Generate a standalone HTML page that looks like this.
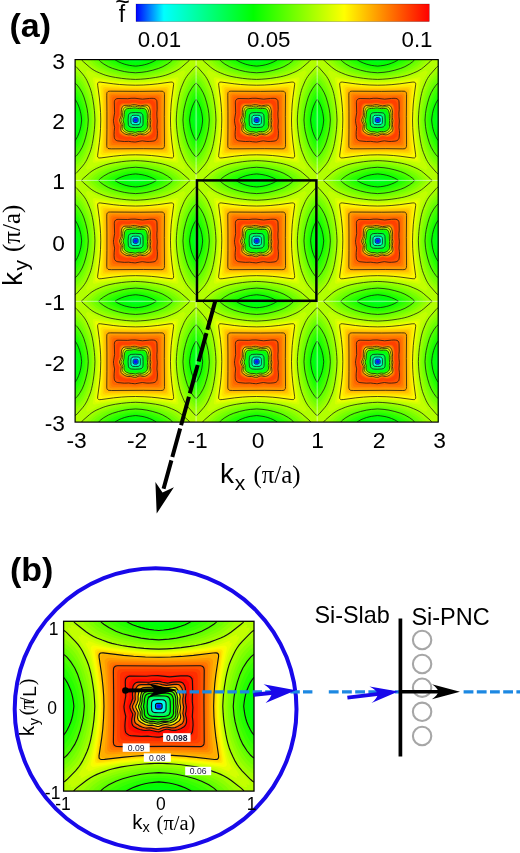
<!DOCTYPE html>
<html><head><meta charset="utf-8"><title>Figure</title>
<style>
html,body{margin:0;padding:0;background:#fff}
svg{display:block}
text{font-family:"Liberation Sans",Arial,sans-serif;fill:#000}
.s{font-family:"Liberation Serif","Times New Roman",serif}
.b{font-weight:bold}
</style></head><body>
<svg width="520" height="853" viewBox="0 0 520 853">
<defs>
<linearGradient id="cb" x1="0" x2="1" y1="0" y2="0"><stop offset="0" stop-color="rgb(0,0,255)"/><stop offset="0.095" stop-color="rgb(0,255,255)"/><stop offset="0.4" stop-color="rgb(0,255,0)"/><stop offset="0.71" stop-color="rgb(255,255,0)"/><stop offset="1" stop-color="rgb(255,0,0)"/></linearGradient>
<g id="cf">
<rect width="200" height="200" fill="rgb(0,28,255)"/>
<path fill="#0054ff" d="M0 200l200 0 0-200 -200 0 0 199.5zM98.5 102.5l-0.8-0.5 -0.3-1 0-2 0.3-1 0.7-0.5 0.6-0.1 2.5 0.1 0.5 0.2 0.5 0.8 0.2 2 -0.2 1.1 -0.5 0.7 -0.5 0.2 -2.5 0.1z"/>
<path fill="#008cff" d="M0 200l200 0 0-200 -200 0 0 199.5zM99 103.5l-1.5-0.3 -0.7-0.7 -0.3-1.5 0.1-3 0.6-1 0.8-0.4 3-0.1 1.5 0.3 0.7 0.7 0.3 1.5 -0.1 3 -0.4 0.8 -1 0.6 -2.5 0.1z"/>
<path fill="#00c4ff" d="M0 200l200 0 0-200 -200 0 0 199.5zM98 104l-1.2-0.5 -0.5-0.5 -0.3-0.9 -0.1-3.6 0.4-1.5 0.7-0.7 1-0.3 4 0 1.2 0.5 0.7 1 0.2 2.5 -0.2 2.5 -0.4 0.7 -1 0.7 -1.5 0.2 -2.5 0z"/>
<path fill="#00fcff" d="M0 200l200 0 0-200 -200 0 0 199.5zM98 104.6l-1.5-0.5 -0.8-1.1 -0.3-1 0-2 0-2 0.3-1 0.7-1 1.1-0.5 4.5-0.1 1.5 0.5 0.8 1.1 0.3 1 0 2 0 2 -0.3 1 -0.7 1 -1.1 0.5 -4 0.1z"/>
<path fill="#00ffef" d="M0 200l200 0 0-200 -200 0 0 199.5zM97.5 105.1l-1.5-0.6 -0.5-0.5 -0.5-1 -0.1-4 0.1-1.5 0.2-1 0.8-1 1-0.5 2-0.1 3.5 0 1.5 0.6 0.5 0.5 0.5 1 0.1 4.5 -0.3 2 -0.8 1 -1 0.5 -1.5 0.1 -3.5 0z"/>
<path fill="#00ffdd" d="M0 200l200 0 0-200 -200 0 0 199.5zM97.5 105.6l-1.8-0.6 -0.7-0.7 -0.4-0.8 -0.2-1.5 0-3.5 0.1-1.5 0.3-1 0.9-1 1.3-0.5 5.5-0.1 1.8 0.6 0.7 0.7 0.4 0.8 0.2 1 0 2.5 -0.2 3.5 -0.6 1 -1.3 0.9 -1.5 0.2 -4 0z"/>
<path fill="#00ffcc" d="M0 200l200 0 0-200 -200 0 0 199.5zM97.5 106l-2-0.5 -0.6-0.5 -0.6-1 -0.3-1.5 -0.1-2.5 0.1-2.5 0.3-1.5 0.7-1.1 0.5-0.4 1-0.4 2-0.2 4 0.1 2 0.5 0.6 0.5 0.6 1 0.3 1.5 0.1 2.5 -0.1 2.5 -0.3 1.5 -0.7 1.1 -1.5 0.8 -5.5 0.2z"/>
<path fill="#00ffba" d="M0 200l200 0 0-200 -200 0 0 199.5zM97.5 106.5l-1.5-0.2 -1-0.5 -0.8-0.8 -0.5-1 -0.3-4.5 0.1-2.5 0.4-1.5 0.7-1 1.4-0.8 2.5-0.2 4 0 1.5 0.2 0.8 0.3 0.7 0.6 0.6 0.9 0.3 1 0.1 2 0 4 -0.2 1.5 -0.8 1.4 -1.5 0.9 -1.5 0.2 -4.5 0z"/>
<path fill="#00ffa9" d="M0 200l200 0 0-200 -200 0 0 199.5zM97.5 107l-1.5-0.1 -1.1-0.4 -1.2-1 -0.4-1 -0.3-1.5 -0.1-3 0.1-3 0.3-1.5 0.9-1.5 1.3-0.7 2.5-0.3 4.5 0 1.5 0.1 1.1 0.4 1.2 1 0.4 1 0.3 1.5 0.1 3 -0.1 3 -0.2 1.5 -0.8 1.3 -1.5 0.9 -1.5 0.3 -5 0z"/>
<path fill="#00ff98" d="M0 200l200 0 0-200 -200 0 0 199.5zM96.5 107.5l-1.5-0.3 -1-0.5 -0.7-0.7 -0.6-1 -0.2-1.5 -0.1-4 0.1-3.5 0.5-1.5 1-1.3 1.5-0.6 3-0.2 5 0.1 1.5 0.2 1 0.5 1 1.2 0.4 1.1 0.2 2.5 0 5 -0.2 1.5 -0.3 1 -1.1 1.2 -1.5 0.7 -4 0.2 -3.5 0z"/>
<path fill="#00ff86" d="M0 200l200 0 0-200 -200 0 0 199.5zM95.5 108l-1.5-0.4 -0.8-0.6 -0.7-0.9 -0.4-1.1 -0.3-3.5 0-3.5 0.2-2.5 0.5-1.6 1.3-1.4 1.7-0.5 4-0.2 5 0.2 1 0.2 1 0.5 1 1.2 0.4 1.1 0.3 2.5 -0.1 6 -0.1 1.5 -0.4 1 -0.6 0.8 -0.9 0.7 -1.6 0.5 -4.5 0.2 -4-0.1z"/>
<path fill="#00ff75" d="M0 200l200 0 0-200 -200 0 0 199.5zM94.5 108.5l-1.2-0.5 -1.1-1 -0.6-1 -0.2-1 -0.3-4.5 0.2-4.5 0.3-2 0.5-1 1.4-1.2 2-0.5 4.5-0.1 5.5 0.3 1 0.3 1 0.8 0.7 0.9 0.4 1.5 0.2 3 0 6 -0.3 1.5 -0.5 1.3 -1.3 1.2 -1.7 0.6 -5.5 0.3 -4.5-0.3z"/>
<path fill="#00ff63" d="M0 200l200 0 0-200 -200 0 0 199.5zM97.5 109.5l-2.5-0.1 -2-0.6 -1.1-0.8 -0.9-1.3 -0.4-1.7 -0.2-5 0.2-4.5 0.4-2 0.4-1 1-1 1.6-0.7 4-0.3 6.5 0.1 1.5 0.2 1.5 0.6 1.1 1.1 0.6 1.5 0.3 2 0 4.5 -0.1 4 -0.3 2 -0.5 1 -0.6 0.6 -1 0.7 -1 0.4 -1.5 0.2 -6.5 0.1z"/>
<path fill="#00ff52" d="M0 200l200 0 0-200 -200 0 0 199.5zM93.5 110l-1.5-0.6 -1.1-0.9 -0.6-1 -0.5-1.5 -0.3-5.5 0.2-5 0.3-2 0.5-1.5 0.8-1 0.7-0.5 1-0.4 1.5-0.3 5-0.2 7 0.3 1.5 0.5 1 0.9 0.7 1.2 0.5 1.5 0.2 6 -0.1 5 -0.2 1.5 -0.6 1.5 -1.6 1.5 -0.9 0.4 -1.5 0.3 -6 0.2 -5.5-0.3z"/>
<path fill="#00ff40" d="M0 200l200 0 0-200 -200 0 0 199.5zM98 111.5l-4-0.2 -2-0.5 -1.5-0.8 -1.2-1.5 -0.5-2 -0.4-6 0.3-6 0.5-2.5 0.4-1 0.9-1.1 1-0.6 1.5-0.5 5-0.3 7.5 0.2 2 0.2 1.5 0.6 1.1 1 0.8 1.5 0.5 2.5 0.1 5.5 -0.1 5.5 -0.3 2 -0.4 1 -0.7 1.1 -1 0.8 -1.4 0.6 -2.1 0.3 -7 0.2z"/>
<path fill="#00ff2f" d="M0 200l200 0 0-200 -200 0 0 199.5zM93.5 112.5l-2.3-0.5 -1.7-0.9 -1-1.1 -0.8-2 -0.6-8 0.5-7 0.4-1.8 0.5-1.2 0.7-1 0.8-0.6 1-0.5 2-0.4 6.5-0.3 7.5 0.3 2 0.4 1.5 0.8 1.1 1.3 0.7 2 0.3 2.5 0 11.5 -0.2 2 -0.6 1.5 -0.8 1.2 -1 0.8 -1.1 0.5 -1.4 0.4 -7.5 0.5 -6-0.3z"/>
<path fill="#00ff1e" d="M0 200l96.9 0 3.1-0.5 3.1 0.5 96.9 0 0-96.9 -0.5-3.1 0.5-3.1 0-96.9 -96.9 0 -3.1 0.5 -3.1-0.5 -96.9 0 0 96.9 0.5 3.1 -0.5 3.1 0 96.4zM99.5 114l-7.5-0.6 -2.5-0.8 -1.4-1.1 -1-1.5 -0.5-1.5 -0.2-4 -0.4-3.5 0.7-9 0.4-2 0.8-1.5 1.1-1 1.5-0.7 2.5-0.4 4.5-0.3 10 0.4 2.7 0.5 1.3 0.8 1 1.2 0.6 1.5 0.5 2.5 0.2 7.5 -0.1 6.5 -0.3 2 -0.7 1.5 -1.3 1.5 -0.9 0.6 -1.5 0.6 -2 0.4 -3 0 -4 0.4z"/>
<path fill="#00ff0c" d="M0 200l82.7 0 3.3-1.5 3.5-1.1 5-1 5.5-0.8 5.5 0.8 5 1 3.5 1.1 3.3 1.5 82.7 0 0-82.7 -1.5-3.3 -1.1-3.5 -1-5 -0.8-5.5 0.8-5.5 1-5 1.1-3.5 1.5-3.3 0-82.7 -82.7 0 -3.3 1.5 -3.5 1.1 -5 1 -5.5 0.8 -5.5-0.8 -5-1 -3.5-1.1 -3.3-1.5 -82.7 0 0 82.7 1.5 3.3 1.1 3.5 1 5 0.8 5.5 -0.8 5.5 -1 5 -1.1 3.5 -1.5 3.3 0 82.2zM95.5 115l-3.5-0.1 -3-1 -2.1-1.4 -0.8-1 -0.5-1 -0.4-2 0-3.5 -0.7-5 0.7-4.5 0.3-4.5 0.9-3 0.7-1 1.3-1 1.5-0.5 1.6-0.3 7.5-0.4 6 0.4 4.5 0.1 2 0.6 1.5 1.1 1 1.7 0.7 2.3 0.3 2 0.2 7.5 -0.3 4.5 0.1 3 -0.5 2.5 -0.9 1.5 -1 1 -1.5 1 -1.6 0.6 -2 0.3 -3.5-0.1 -4 0.6 -4-0.3z"/>
<path fill="#05ff00" d="M0 200l73.6 0 2.3-1.5 2.9-1.5 6.2-2.3 7-1.5 8-1 8 1 7 1.5 6.2 2.3 2.9 1.5 2.3 1.5 73.6 0 0-73.6 -1.5-2.3 -1.5-2.9 -2.3-6.2 -1.5-7 -1-8 1-8 1.5-7 2.3-6.2 1.5-2.9 1.5-2.3 0-73.6 -73.6 0 -2.3 1.5 -2.9 1.5 -6.2 2.3 -7 1.5 -8 1 -8-1 -7-1.5 -6.2-2.3 -2.9-1.5 -2.3-1.5 -73.6 0 0 73.6 1.5 2.3 1.5 2.9 2.3 6.2 1.5 7 1 8 -1 8 -1.5 7 -2.3 6.2 -1.5 2.9 -1.5 2.3 0 73.1zM97 116.5l-2.5-0.3 -3-0.1 -2.5-0.7 -1.9-0.9 -1.1-0.8 -1-1.2 -0.5-1 -0.5-2.5 0-4 -0.9-4.5 0.9-5.5 0.2-4 0.8-3.5 0.9-1.5 1.1-0.9 1.5-0.7 2-0.3 8.5-0.6 6 0.6 5-0.1 2.5 0.7 1.5 1.1 1.1 1.7 0.8 3 0.3 2 0 5 0.2 3 -0.3 5 0.2 3 -0.5 2.5 -0.7 1.5 -1.1 1.2 -1.5 1.1 -2 0.9 -2.5 0.4 -3.5-0.2 -4.5 0.9 -2.5-0.2z"/>
<path fill="#16ff00" d="M0 200l65.3 0 2.9-2 3.7-2 4.6-2 4.5-1.6 4-1.2 4-0.8 5.5-0.9 5.5-0.5 5.5 0.5 5.5 0.9 4 0.8 4 1.2 4.5 1.6 4.6 2 3.7 2 2.9 2 65.3 0 0-65.3 -2-2.9 -2-3.7 -2-4.6 -1.6-4.5 -1.2-4 -0.8-4 -0.9-5.5 -0.5-5.5 0.5-5.5 0.9-5.5 0.8-4 1.2-4 1.6-4.5 2-4.6 2-3.7 2-2.9 0-65.3 -65.3 0 -2.9 2 -3.7 2 -4.6 2 -4.5 1.6 -4 1.2 -4 0.8 -5.5 0.9 -5.5 0.5 -5.5-0.5 -5.5-0.9 -4-0.8 -4-1.2 -4.5-1.6 -4.6-2 -3.7-2 -2.9-2 -65.3 0 0 65.3 2 2.9 2 3.7 2 4.6 1.6 4.5 1.2 4 0.8 4 0.9 5.5 0.5 5.5 -0.5 5.5 -0.9 5.5 -0.8 4 -1.2 4 -1.6 4.5 -2 4.6 -2 3.7 -2 2.9 0 64.8zM97 117.6l-2.5-0.5 -3.5 0 -3-0.9 -1.5-0.8 -1.3-0.9 -0.9-1 -0.8-1.5 -0.5-2.5 0.1-4 -1.2-5 1.2-6 0-2.5 0.3-2.5 0.9-3 0.9-1.5 1.2-1 1.3-0.5 2.3-0.4 4-0.2 2.5-0.4 2.5-0.1 6.5 0.8 3.5-0.2 2.5 0.2 2 0.6 1.5 1.2 1.1 2 0.9 3.5 0.2 1.5 -0.1 5.5 0.3 3 -0.3 5 0.2 4 -0.6 2.5 -0.9 1.5 -1.3 1.3 -1.8 1.2 -1.7 0.7 -2.5 0.4 -2.5-0.3 -1.5 0.1 -4.5 1 -2.5-0.3z"/>
<path fill="#27ff00" d="M0 200l58.7 0 2.8-2.4 3.6-2.1 6.4-2.8 6.5-2.5 5-1.5 5-1.1 6-0.8 6-0.5 6 0.5 6 0.8 5 1.1 5 1.5 6.5 2.5 6.4 2.8 3.6 2.1 2.8 2.4 58.7 0 0-58.7 -2.4-2.8 -2.1-3.6 -2.8-6.4 -2.5-6.5 -1.5-5 -1.1-5 -0.8-6 -0.5-6 0.5-6 0.8-6 1.1-5 1.5-5 2.5-6.5 2.8-6.4 2.1-3.6 2.4-2.8 0-58.7 -58.7 0 -2.8 2.4 -3.6 2.1 -6.4 2.8 -6.5 2.5 -5 1.5 -5 1.1 -6 0.8 -6 0.5 -6-0.5 -6-0.8 -5-1.1 -5-1.5 -6.5-2.5 -6.4-2.8 -3.6-2.1 -2.8-2.4 -58.7 0 0 58.7 2.4 2.8 2.1 3.6 2.8 6.4 2.5 6.5 1.5 5 1.1 5 0.8 6 0.5 6 -0.5 6 -0.8 6 -1.1 5 -1.5 5 -2.5 6.5 -2.8 6.4 -2.1 3.6 -2.4 2.8 0 58.2zM98.5 118.6l-4-0.8 -3.5 0 -2.9-0.8 -2.1-1 -1-0.7 -1-0.9 -0.9-1.4 -0.7-2.5 0-5 -1.2-5 1.3-6 0.1-4 0.9-4.2 1-1.8 1-0.9 1.5-0.7 2-0.4 5-0.3 2.5-0.4 2.5-0.1 6.5 0.8 4-0.1 2.3 0.1 2.2 0.6 1.6 1.4 1.1 2 0.9 3.5 0.2 1.5 0 6 0.3 3 -0.4 5.5 0.3 3.5 -0.5 2.5 -0.7 1.5 -1.3 1.5 -1.5 1.1 -2 1 -1.5 0.5 -1.5 0.1 -4-0.2 -2 0.3 -2.5 0.8 -1.5 0.1z"/>
<path fill="#39ff00" d="M0 200l52.5 0 1.4-1.5 1.9-1.5 4.7-2.9 5-2.4 8.5-3.3 6-1.8 6-1.3 6.5-0.9 7.5-0.7 7.5 0.7 6.5 0.9 6 1.3 6 1.8 8.5 3.3 5 2.4 4.7 2.9 1.9 1.5 1.4 1.5 52.5 0 0-52.5 -1.5-1.4 -1.5-1.9 -2.9-4.7 -2.4-5 -3.3-8.5 -1.8-6 -1.3-6 -0.9-6.5 -0.7-7.5 0.7-7.5 0.9-6.5 1.3-6 1.8-6 3.3-8.5 2.4-5 2.9-4.7 1.5-1.9 1.5-1.4 0-52.5 -52.5 0 -1.4 1.5 -1.9 1.5 -4.7 2.9 -5 2.4 -8.5 3.3 -6 1.8 -6 1.3 -6.5 0.9 -7.5 0.7 -7.5-0.7 -6.5-0.9 -6-1.3 -6-1.8 -8.5-3.3 -5-2.4 -4.7-2.9 -1.9-1.5 -1.4-1.5 -52.5 0 0 52.5 1.5 1.4 1.5 1.9 2.9 4.7 2.4 5 3.3 8.5 1.8 6 1.3 6 0.9 6.5 0.7 7.5 -0.7 7.5 -0.9 6.5 -1.3 6 -1.8 6 -3.3 8.5 -2.4 5 -2.9 4.7 -1.5 1.9 -1.5 1.4 0 52zM97.5 119l-3.5-0.7 -3.5 0 -2.8-0.8 -2.1-1 -1.4-1 -0.9-1 -0.8-1.2 -0.4-1.3 -0.3-1.5 0.2-4.5 -1.5-5.5 1.4-6 0.2-4.5 0.5-2.5 0.6-2 0.8-1.5 1-0.9 1.5-0.7 2-0.4 5-0.3 2.5-0.5 3-0.1 7 1 3.5-0.3 3.1 0.2 1.9 0.6 1.6 1.4 1.1 2 1 4 0.2 1.5 -0.2 2.5 0.1 3.5 0.4 3 -0.4 5.5 0.3 4 -0.5 2.5 -0.8 1.5 -1.3 1.5 -2 1.4 -2 0.9 -2.5 0.5 -4-0.4 -2.5 0.4 -3 1 -2-0.2z"/>
<path fill="#4aff00" d="M0 200l46.6 0 1.2-1.5 1.6-1.5 5.1-3.5 6.5-3.4 6.4-2.6 8.1-2.5 8-1.9 7-1 9.5-0.8 9.5 0.8 7 1 8 1.9 8.1 2.5 6.4 2.6 6.5 3.4 5.1 3.5 1.6 1.5 1.2 1.5 46.6 0 0-46.6 -1.5-1.2 -1.5-1.6 -3.5-5.1 -3.4-6.5 -2.6-6.4 -2.5-8.1 -1.9-8 -1-7 -0.8-9.5 0.8-9.5 1-7 1.9-8 2.5-8.1 2.6-6.4 3.4-6.5 3.5-5.1 1.5-1.6 1.5-1.2 0-46.6 -46.6 0 -1.2 1.5 -1.6 1.5 -5.1 3.5 -6.5 3.4 -6.4 2.6 -8.1 2.5 -8 1.9 -7 1 -9.5 0.8 -9.5-0.8 -7-1 -8-1.9 -8.1-2.5 -6.4-2.6 -6.5-3.4 -5.1-3.5 -1.6-1.5 -1.2-1.5 -46.6 0 0 46.6 1.5 1.2 1.5 1.6 3.5 5.1 3.4 6.5 2.6 6.4 2.5 8.1 1.9 8 1 7 0.8 9.5 -0.8 9.5 -1 7 -1.9 8 -2.5 8.1 -2.6 6.4 -3.4 6.5 -3.5 5.1 -1.5 1.6 -1.5 1.2 0 46.1zM97.5 119.6l-3.5-0.8 -3.5 0 -3-0.8 -2-1 -1.6-1 -1-1 -0.9-1.5 -0.5-1.5 -0.1-1.5 0.1-4.5 -1.4-4.5 -0.2-1 0.1-1 0.7-2 0.7-3 0.3-5 0.5-2.5 0.6-2 0.9-1.5 1.1-1 1.7-0.7 2-0.3 5-0.3 2.5-0.5 3-0.1 7 1 4.5-0.3 3 0.3 2 0.9 1.4 1.5 1 2.5 0.9 3.5 0 7 0.4 4 -0.5 5 0.4 4.5 -0.6 2.5 -0.9 1.5 -1.4 1.5 -2.2 1.5 -2 0.8 -2.5 0.5 -4-0.4 -2.5 0.4 -3 1 -2-0.1z"/>
<path fill="#5bff00" d="M0 200l40.5 0 1.1-1.5 2.1-2 4.9-3.5 7.9-4.5 6.5-2.7 9.5-2.9 9.5-2.1 7.5-1.2 10.5-0.8 10.5 0.8 7.5 1.2 9.5 2.1 9.5 2.9 6.5 2.7 7.9 4.5 4.9 3.5 2.1 2 1.1 1.5 40.5 0 0-40.5 -1.5-1.1 -2-2.1 -3.5-4.9 -4.5-7.9 -2.7-6.5 -2.9-9.5 -2.1-9.5 -1.2-7.5 -0.8-10.5 0.8-10.5 1.2-7.5 2.1-9.5 2.9-9.5 2.7-6.5 4.5-7.9 3.5-4.9 2-2.1 1.5-1.1 0-40.5 -40.5 0 -1.1 1.5 -2.1 2 -4.9 3.5 -7.9 4.5 -6.5 2.7 -9.5 2.9 -9.5 2.1 -7.5 1.2 -10.5 0.8 -10.5-0.8 -7.5-1.2 -9.5-2.1 -9.5-2.9 -6.5-2.7 -7.9-4.5 -4.9-3.5 -2.1-2 -1.1-1.5 -40.5 0 0 40.5 1.5 1.1 2 2.1 3.5 4.9 4.5 7.9 2.7 6.5 2.9 9.5 2.1 9.5 1.2 7.5 0.8 10.5 -0.8 10.5 -1.2 7.5 -2.1 9.5 -2.9 9.5 -2.7 6.5 -4.5 7.9 -3.5 4.9 -2 2.1 -1.5 1.1 0 40zM97.5 120.1l-4-0.9 -3.5 0 -2.5-0.7 -2.2-1 -1.8-1.2 -1.2-1.3 -0.8-1.4 -0.6-2.6 0.2-5 -1.5-4.5 -0.2-1 0.1-1 0.9-2.5 0.7-3 0.2-4.5 0.5-3 0.6-2 1-1.5 1.2-1 1.4-0.5 2.7-0.5 4.3-0.2 3-0.6 3-0.1 7 1.1 4.5-0.3 3 0.2 2 0.8 1.5 1.3 1 2 1.1 4.3 0.2 1.5 -0.2 2.5 0.1 3.5 0.5 3.5 -0.6 6 0.4 4 -0.5 2.6 -1 1.8 -1.5 1.5 -2 1.4 -2 0.9 -2.5 0.5 -4.5-0.4 -2.5 0.5 -3 1 -2-0.1z"/>
<path fill="#6cff00" d="M0 200l35 0 1.3-2 1.7-1.8 2.1-1.7 3.4-2.3 7.9-4.7 4.1-1.9 4-1.6 9-2.7 12.5-2.8 8.5-1.3 10.5-0.8 10.5 0.8 8.5 1.3 12.5 2.8 9 2.7 4 1.6 4.1 1.9 7.9 4.7 3.4 2.3 2.1 1.7 1.7 1.8 1.3 2 35 0 0-35 -2-1.3 -1.8-1.7 -1.7-2.1 -2.3-3.4 -4.7-7.9 -1.9-4.1 -1.6-4 -2.7-9 -2.8-12.5 -1.3-8.5 -0.8-10.5 0.8-10.5 1.3-8.5 2.8-12.5 2.7-9 1.6-4 1.9-4.1 4.7-7.9 2.3-3.4 1.7-2.1 1.8-1.7 2-1.3 0-35 -35 0 -1.3 2 -1.7 1.8 -2.1 1.7 -3.4 2.3 -7.9 4.7 -4.1 1.9 -4 1.6 -9 2.7 -12.5 2.8 -8.5 1.3 -10.5 0.8 -10.5-0.8 -8.5-1.3 -12.5-2.8 -9-2.7 -4-1.6 -4.1-1.9 -7.9-4.7 -3.4-2.3 -2.1-1.7 -1.7-1.8 -1.3-2 -35 0 0 35 2 1.3 1.8 1.7 1.7 2.1 2.3 3.4 4.7 7.9 1.9 4.1 1.6 4 2.7 9 2.8 12.5 1.3 8.5 0.8 10.5 -0.8 10.5 -1.3 8.5 -2.8 12.5 -2.7 9 -1.6 4 -1.9 4.1 -4.7 7.9 -2.3 3.4 -1.7 2.1 -1.8 1.7 -2 1.3 0 34.5zM98 120.6l-4-1 -4 0 -2.2-0.6 -2.3-1 -2-1.2 -1.3-1.3 -1-1.5 -0.4-1.5 -0.2-1.5 0.2-4.5 -1.5-4.5 -0.3-1.5 0.1-1 0.9-2.5 0.8-3 0.2-4.9 0.5-2.9 0.5-1.7 0.8-1.5 1.2-1.1 2-0.8 2-0.4 5-0.2 2.5-0.6 3.5-0.1 7 1.1 5-0.3 3 0.2 2 0.9 1.5 1.5 1 2.2 1 4.1 0.1 1.5 -0.2 2.5 0.1 3.5 0.5 3.5 -0.5 6 0.4 4 -0.4 2.5 -1 1.9 -1.4 1.6 -2.2 1.5 -2.2 1 -2.7 0.5 -3-0.4 -1.5 0 -2.5 0.5 -3 1.1 -1.5 0z"/>
<path fill="#7dff00" d="M0 200l30 0 1.1-2 1.9-2.2 2.5-2.3 3-2.3 4.3-2.7 3.5-2 4.2-2 5-2 9.5-3 14-3.2 9.5-1.4 11.5-0.8 11.5 0.8 9.5 1.4 14 3.2 9.5 3 5 2 4.2 2 3.5 2 4.3 2.7 3 2.3 2.5 2.3 1.9 2.2 1.1 2 30 0 0-30 -2-1.1 -2.2-1.9 -2.3-2.5 -2.3-3 -2.7-4.3 -2-3.5 -2-4.2 -2-5 -3-9.5 -3.2-14 -1.4-9.5 -0.8-11.5 0.8-11.5 1.4-9.5 3.2-14 3-9.5 2-5 2-4.2 2-3.5 2.7-4.3 2.3-3 2.3-2.5 2.2-1.9 2-1.1 0-30 -30 0 -1.1 2 -1.9 2.2 -2.5 2.3 -3 2.3 -4.3 2.7 -3.5 2 -4.2 2 -5 2 -9.5 3 -14 3.2 -9.5 1.4 -11.5 0.8 -11.5-0.8 -9.5-1.4 -14-3.2 -9.5-3 -5-2 -4.2-2 -3.5-2 -4.3-2.7 -3-2.3 -2.5-2.3 -1.9-2.2 -1.1-2 -30 0 0 30 2 1.1 2.2 1.9 2.3 2.5 2.3 3 2.7 4.3 2 3.5 2 4.2 2 5 3 9.5 3.2 14 1.4 9.5 0.8 11.5 -0.8 11.5 -1.4 9.5 -3.2 14 -3 9.5 -2 5 -2 4.2 -2 3.5 -2.7 4.3 -2.3 3 -2.3 2.5 -2.2 1.9 -2 1.1 0 29.5zM98.5 121l-5-1.2 -2.5 0.1 -1.5-0.1 -2.5-0.8 -2.2-1 -1.5-1 -1.3-1.2 -1-1.5 -0.4-1.3 -0.3-1.5 0.3-5 -1.6-4.5 -0.3-1.5 0.1-1 1-2.5 0.7-3 0.2-4.5 0.5-3 0.5-2 0.8-1.6 1.5-1.4 1.5-0.6 2-0.4 5.5-0.3 3-0.7 3-0.1 7.5 1.3 4-0.4 3.4 0.2 1.6 0.5 0.9 0.5 1.4 1.5 1 2.5 1 4 0 7.5 0.5 4 -0.6 5.5 0.5 4.5 -0.5 2.5 -0.8 1.5 -1.4 1.5 -2 1.5 -2.5 1.2 -1.5 0.5 -1.5 0.1 -3-0.4 -1.5 0 -2.5 0.5 -2.5 1 -1.5 0.2z"/>
<path fill="#8eff00" d="M0 200l25 0 1.3-2.5 2.1-2.5 3.1-3 4.4-3.5 2.6-1.7 3.4-1.8 4.3-2 4.8-1.9 6.5-2.3 5.5-1.7 12.5-2.8 6-1 5.5-0.7 13-0.8 13 0.8 5.5 0.7 6 1 12.5 2.8 5.5 1.7 6.5 2.3 4.8 1.9 4.3 2 3.4 1.8 2.6 1.7 4.4 3.5 3.1 3 2.1 2.5 1.3 2.5 25 0 0-25 -2.5-1.3 -2.5-2.1 -3-3.1 -3.5-4.4 -1.7-2.6 -1.8-3.4 -2-4.3 -1.9-4.8 -2.3-6.5 -1.7-5.5 -2.8-12.5 -1-6 -0.7-5.5 -0.8-13 0.8-13 0.7-5.5 1-6 2.8-12.5 1.7-5.5 2.3-6.5 1.9-4.8 2-4.3 1.8-3.4 1.7-2.6 3.5-4.4 3-3.1 2.5-2.1 2.5-1.3 0-25 -25 0 -1.3 2.5 -2.1 2.5 -3.1 3 -4.4 3.5 -2.6 1.7 -3.4 1.8 -4.3 2 -4.8 1.9 -6.5 2.3 -5.5 1.7 -12.5 2.8 -6 1 -5.5 0.7 -13 0.8 -13-0.8 -5.5-0.7 -6-1 -12.5-2.8 -5.5-1.7 -6.5-2.3 -4.8-1.9 -4.3-2 -3.4-1.8 -2.6-1.7 -4.4-3.5 -3.1-3 -2.1-2.5 -1.3-2.5 -25 0 0 25 2.5 1.3 2.5 2.1 3 3.1 3.5 4.4 1.7 2.6 1.8 3.4 2 4.3 1.9 4.8 2.3 6.5 1.7 5.5 2.8 12.5 1 6 0.7 5.5 0.8 13 -0.8 13 -0.7 5.5 -1 6 -2.8 12.5 -1.7 5.5 -2.3 6.5 -1.9 4.8 -2 4.3 -1.8 3.4 -1.7 2.6 -3.5 4.4 -3 3.1 -2.5 2.1 -2.5 1.3 0 24.5zM97.5 121.1l-4-1 -4 0 -2.5-0.8 -2.5-1.2 -1.5-0.9 -1.3-1.2 -0.9-1.5 -0.5-1.5 -0.2-1.5 0.2-5 -1.6-4.5 -0.3-1.5 0.1-1 1-2.5 0.8-3 0.1-4.5 0.6-3.5 0.6-2 0.4-1 1-1.2 1-0.7 1-0.4 3.5-0.6 4.5-0.2 3-0.6 3.5-0.1 7 1.2 4.5-0.4 3.5 0.3 2 0.9 1.5 1.6 1 2.3 1.1 4.4 -0.1 7.5 0.6 4 -0.6 5.5 0.5 4.5 -0.5 2.5 -1 1.8 -1.5 1.6 -2.2 1.6 -2.3 1 -1.5 0.4 -1.5 0.2 -3-0.5 -1.5 0 -2.5 0.6 -3 1.2 -2-0.2z"/>
<path fill="#9fff00" d="M0 200l19.3 0 1.3-2.5 3.1-3.5 5.9-5.5 4-3 3.9-2.2 4.5-2.1 9-3.5 6-2 8.6-2.2 12.9-2.3 10-1.1 11.5-0.6 11.5 0.6 10 1.1 12.9 2.3 8.6 2.2 6 2 9 3.5 4.5 2.1 3.9 2.2 4 3 5.9 5.5 3.1 3.5 1.3 2.5 19.3 0 0-19.3 -2.5-1.3 -3.5-3.1 -5.5-5.9 -3-4 -2.2-3.9 -2.1-4.5 -3.5-9 -2-6 -2.2-8.6 -2.3-12.9 -1.1-10 -0.6-11.5 0.6-11.5 1.1-10 2.3-12.9 2.2-8.6 2-6 3.5-9 2.1-4.5 2.2-3.9 3-4 5.5-5.9 3.5-3.1 2.5-1.3 0-19.3 -19.3 0 -1.3 2.5 -3.1 3.5 -5.9 5.5 -4 3 -3.9 2.2 -4.5 2.1 -9 3.5 -6 2 -8.6 2.2 -12.9 2.3 -10 1.1 -11.5 0.6 -11.5-0.6 -10-1.1 -12.9-2.3 -8.6-2.2 -6-2 -9-3.5 -4.5-2.1 -3.9-2.2 -4-3 -5.9-5.5 -3.1-3.5 -1.3-2.5 -19.3 0 0 19.3 2.5 1.3 3.5 3.1 5.5 5.9 3 4 2.2 3.9 2.1 4.5 3.5 9 2 6 2.2 8.6 2.3 12.9 1.1 10 0.6 11.5 -0.6 11.5 -1.1 10 -2.3 12.9 -2.2 8.6 -2 6 -3.5 9 -2.1 4.5 -2.2 3.9 -3 4 -5.5 5.9 -3.5 3.1 -2.5 1.3 0 18.8zM98.5 121.6l-5-1.2 -3.5 0 -3-0.8 -2.5-1.1 -2-1.4 -1.1-1.1 -1-1.5 -0.4-1.5 -0.2-1.5 0.3-5 -1.7-4.5 -0.3-1.5 0.1-1 1-2.5 0.8-3 0.2-5 0.5-3 0.6-2 0.7-1.5 1.5-1.4 1.5-0.7 2.5-0.4 5.5-0.3 2.5-0.6 3.5-0.2 7.5 1.3 4.5-0.4 3 0.1 1.5 0.4 1 0.5 1.5 1.4 1.1 2.3 1.2 4.5 0.2 1.5 -0.3 3 0.1 3.5 0.6 3.5 -0.7 6 0.6 4.5 -0.4 2.5 -1.1 2 -1.4 1.5 -1.9 1.4 -2.5 1.3 -1.5 0.4 -1.5 0.2 -3.5-0.5 -1.5 0.1 -2.5 0.5 -2.5 1.1 -1.5 0.2z"/>
<path fill="#b1ff00" d="M0 200l11.1 0 1-1.5 2.4-2.5 10-8.8 4.3-3.2 3.7-2.2 4-2 7.5-3.2 5.7-2.1 5.1-1.5 5.2-1.2 13.5-2.3 13-1.5 13.5-0.7 13.5 0.7 13 1.5 13.5 2.3 5.2 1.2 5.1 1.5 5.7 2.1 7.5 3.2 4 2 3.7 2.2 4.3 3.2 10 8.8 2.4 2.5 1 1.5 11.1 0 0-11.1 -1.5-1 -2.5-2.4 -8.8-10 -3.2-4.3 -2.2-3.7 -2-4 -3.2-7.5 -2.1-5.7 -1.5-5.1 -1.2-5.2 -2.3-13.5 -1.5-13 -0.7-13.5 0.7-13.5 1.5-13 2.3-13.5 1.2-5.2 1.5-5.1 2.1-5.7 3.2-7.5 2-4 2.2-3.7 3.2-4.3 8.8-10 2.5-2.4 1.5-1 0-11.1 -11.1 0 -1 1.5 -2.4 2.5 -10 8.8 -4.3 3.2 -3.7 2.2 -4 2 -7.5 3.2 -5.7 2.1 -5.1 1.5 -5.2 1.2 -13.5 2.3 -13 1.5 -13.5 0.7 -13.5-0.7 -13-1.5 -13.5-2.3 -5.2-1.2 -5.1-1.5 -5.7-2.1 -7.5-3.2 -4-2 -3.7-2.2 -4.3-3.2 -10-8.8 -2.4-2.5 -1-1.5 -11.1 0 0 11.1 1.5 1 2.5 2.4 8.8 10 3.2 4.3 2.2 3.7 2 4 3.2 7.5 2.1 5.7 1.5 5.1 1.2 5.2 2.3 13.5 1.5 13 0.7 13.5 -0.7 13.5 -1.5 13 -2.3 13.5 -1.2 5.2 -1.5 5.1 -2.1 5.7 -3.2 7.5 -2 4 -2.2 3.7 -3.2 4.3 -8.8 10 -2.5 2.4 -1.5 1 0 10.6zM99.5 122l-1-0.1 -5-1.3 -3.5 0.1 -1.5-0.2 -4-1.7 -1.5-0.9 -1.5-1.3 -1-1.3 -0.7-1.8 -0.3-2.5 0.4-3.5 -0.1-1 -1.8-4.5 -0.3-1.5 0.2-1 1-2.5 0.9-3.5 0.1-4 0.8-4.5 0.4-1.5 0.9-1.6 1.5-1.2 2-0.7 3.5-0.5 4-0.1 3-0.7 3.5-0.1 3.5 0.8 3.5 0.6 6-0.5 2 0.2 1.5 0.5 1.5 0.9 1.3 1.9 1.5 4.5 0.4 2.5 -0.2 3 0 4 0.6 4 -0.6 6 0.5 3 0.1 1.5 -0.4 2 -1 2 -1.3 1.5 -1.9 1.4 -2 1.1 -2 0.8 -2.5 0.3 -3-0.6 -1 0 -2.5 0.5 -3 1.3 -0.9 0.2z"/>
<path fill="#c2ff00" d="M19.5 182.5l0.5 0.2 0.5-0.1 2-0.7 4.8-2.4 6.3-3.5 3.9-1.7 6-2 7.5-1.8 11.1-2 15.4-2 10.5-1 12-0.5 12 0.5 10.5 1 15.4 2 11.1 2 7.5 1.8 6 2 3.9 1.7 6.3 3.5 4.8 2.4 2 0.7 1 0 0.2-0.6 -0.5-1.5 0.3-0.3 1 0.4 1-0.1 0.2-0.5 -0.2-1 -2.5-5.4 -4.2-7.6 -1.7-4 -2.4-8 -2-9 -1.6-10 -1.9-15 -0.7-9 -0.5-11 0.5-12 1-10.5 2-15.4 2.2-12.1 1.8-7.1 2-6 1.6-3.4 5.3-10 1.1-2.5 0.2-1 -0.1-0.5 -0.6-0.2 -1.5 0.5 -0.3-0.3 0.4-1 -0.1-1 -0.5-0.2 -1 0.2 -5.4 2.5 -7.6 4.2 -4 1.7 -8.7 2.6 -9.4 2 -9.5 1.5 -14.9 1.8 -8.5 0.7 -11 0.5 -12-0.5 -10.5-1 -15.4-2 -11.1-2 -7.5-1.8 -6-2 -3.9-1.7 -6.3-3.5 -4.8-2.4 -2-0.7 -1 0 -0.2 0.6 0.5 1.5 -0.3 0.3 -1-0.4 -1 0.1 -0.2 0.5 0.2 1 2.5 5.4 4.2 7.6 1.7 4 2.4 8 2 9 1.6 10 1.9 15 0.7 9 0.5 11 -0.5 11.5 -0.8 9 -1.9 15 -1.7 10.5 -2.1 9.2 -2.3 7.3 -1.5 3.5 -4.2 7.6 -2.5 5.4 -0.2 1 0.2 0.5 1 0.1 1-0.4 0.3 0.3 -0.5 1.5zM98 122.1l-4.5-1.1 -4 0 -2.5-0.7 -3-1.4 -2-1.3 -1.5-1.6 -0.8-1.5 -0.4-1.5 -0.1-1.5 0.4-4.5 -0.3-1 -1.6-4 -0.3-1.5 0.1-1 1.1-2.5 1-3.5 0.1-4.5 0.6-4 0.7-2 0.5-1 0.9-1 2.1-1.2 3-0.5 5-0.1 3-0.8 4-0.1 3.5 0.8 3.5 0.6 5-0.5 3.5 0.2 1 0.3 1.4 0.8 1.3 1.5 0.9 2 1.3 5 0.1 1.5 -0.3 2.5 0.1 4 0.6 3.5 -0.6 6.5 0.6 4 -0.1 1.5 -0.3 1.5 -1.2 2 -1.8 1.8 -2 1.3 -2.8 1.4 -1.2 0.3 -1.5 0.1 -3.5-0.6 -1 0 -2.5 0.5 -3.5 1.5 -1.5 0z"/>
<path fill="#d3ff00" d="M30.4 170.5l1.1 0.4 1.5 0 21.9-3.9 19.1-2.5 13-1.2 13-0.5 13 0.5 13 1.2 19.1 2.5 21.9 3.9 1.5 0 1.1-0.4 0.3-0.5 0.7-0.5 0.2-0.5 0.1-1.5 -3.4-19.2 -2-13.8 -2-19 -0.7-15.5 0.6-13.5 1.2-13 2.4-18.6 3.9-21.9 0-1.5 -0.3-1 -0.6-0.4 -0.5-0.7 -0.5-0.2 -1.5-0.1 -19.2 3.4 -13.8 2 -19 2 -15.5 0.7 -13-0.5 -13-1.2 -19.1-2.5 -21.9-3.9 -1.5 0 -1.1 0.4 -0.3 0.5 -0.7 0.5 -0.2 0.5 -0.1 1.5 3.4 19.2 2 13.8 2 19 0.7 15.5 -0.7 15.5 -2 19 -2 13.8 -3.4 19.2 0.1 1.5 0.2 0.5 0.7 0.5zM98.5 122.6l-5-1.3 -4 0 -2.5-0.6 -3-1.4 -2-1.3 -1.5-1.4 -1-1.6 -0.5-1.5 -0.1-1.5 0.4-5 -2-5 -0.3-1.5 0.2-1 1-2.5 1.1-3.5 0.1-5 0.5-3 0.7-2.5 0.8-1.5 1.1-1.1 1.5-0.8 2-0.5 3.5-0.3 3 0.1 3-0.8 3-0.1 1.5 0 3 0.8 4 0.6 4.5-0.5 3.5 0.1 2 0.7 1 0.8 0.8 1 1.4 3 1 4 0.2 1.5 -0.4 3 0.1 3.5 0.7 4.5 -0.7 6 0.6 4.5 -0.1 1.5 -0.4 1.5 -0.7 1.3 -2.2 2.2 -2.3 1.5 -2.5 1.3 -2.5 0.4 -4-0.6 -1 0 -2.5 0.6 -3 1.3 -1.5 0.2z"/>
<path fill="#e4ff00" d="M33.6 167l1.4 0.5 2.5-0.1 23.5-3.4 18.5-2 9.5-0.7 11-0.4 13 0.6 12 1 15.5 1.7 22.5 3.2 2.5 0 0.9-0.4 0.6-0.5 0.3-0.5 0.2-1 -0.1-2 -3.2-22.5 -1.7-15.5 -1-12 -0.6-13 0.6-13 1-12 1.7-15.5 3.2-22.5 0-2.5 -0.4-0.9 -0.6-0.6 -1.4-0.5 -2.5 0.1 -23.5 3.4 -18.5 2 -9.5 0.7 -11 0.4 -13-0.6 -12-1 -15.5-1.7 -22.5-3.2 -2.5 0 -0.9 0.4 -0.6 0.5 -0.3 0.5 -0.2 1 0.1 2 3.2 22.5 1.7 15.5 1 12 0.6 13 -0.6 13 -1 12 -1.7 15.5 -3.2 22.5 0 2.5 0.4 0.9 0.5 0.6zM99.5 123l-1-0.1 -5.5-1.4 -3.5 0.1 -1.5-0.2 -1.5-0.5 -3-1.6 -2-1.3 -1.9-2 -0.7-1.5 -0.3-2.5 0.4-5 -2-5 -0.3-1.5 0.2-1 1.1-2.6 1-3.4 0-4 0.6-4 0.9-3 1-1.7 2-1.4 2.5-0.6 6.5-0.2 3-0.8 3-0.1 1.5 0.1 3 0.7 4 0.7 5-0.6 3.5 0.1 1.9 0.8 1.5 1.5 0.8 1.5 1 2.5 0.9 4 0 1.5 -0.3 2.5 0.1 3.5 0.6 4 -0.7 6.5 0.6 3.5 0.1 2 -0.2 1.5 -0.7 1.5 -1.6 1.8 -1.5 1.3 -3 1.9 -1.5 0.6 -2.5 0.4 -3.5-0.6 -1.5 0 -2.5 0.5 -3 1.4 -0.9 0.2z"/>
<path fill="#f5ff00" d="M36.3 164.5l1.2 0.4 3-0.1 22.5-3 16.5-1.7 9-0.6 11.5-0.4 12.5 0.5 11 0.8 14 1.5 23 3 2.5-0.1 0.7-0.3 0.6-0.5 0.5-1 0.1-2.5 -3-23 -1.5-14 -0.8-11 -0.5-12.5 0.5-12.5 0.8-11 1.5-14 3-23 -0.1-2.5 -0.3-0.7 -0.8-0.8 -1.2-0.4 -3 0.1 -22.5 3 -16.5 1.7 -9 0.6 -11.5 0.4 -12.5-0.5 -11-0.8 -14-1.5 -23-3 -2.5 0.1 -0.7 0.3 -0.6 0.5 -0.5 1 -0.1 2.5 3 23 1.5 14 0.8 11 0.5 12.5 -0.5 12.5 -0.8 11 -1.5 14 -3 23 0.1 2.5 0.3 0.7 0.5 0.6zM98 123.1l-5-1.3 -4 0.1 -2.5-0.6 -1.5-0.7 -3.5-2.2 -2-1.9 -0.6-1 -0.5-1.5 -0.1-1.5 0.5-5.5 -2.1-5 -0.3-1.5 0.1-1 1.1-2.5 1.1-3.5 0.2-5.5 0.4-3 0.8-2.5 0.9-1.6 1.5-1.4 1.5-0.7 1.5-0.3 3.5-0.2 3.5 0 2.5-0.7 3.5-0.2 1.5 0.1 3 0.8 4 0.6 5.5-0.6 3.5 0.2 1 0.3 1 0.6 1.6 2.1 1.2 2.5 1 4.5 0.1 1.5 -0.3 3 0.1 3.5 0.6 4.5 -0.7 6.5 0.7 4.5 -0.1 1.5 -0.4 1.5 -0.9 1.5 -1.9 1.7 -3.5 2.4 -1.5 0.7 -1.5 0.4 -1.5 0.1 -3.5-0.7 -1.5 0 -2.5 0.6 -3 1.4 -1 0.2 -1-0.1z"/>
<path fill="#fff700" d="M39 162l1.5 0.4 2.5-0.1 19-2.7 14-1.4 11-0.6 13-0.3 14.5 0.4 13.5 0.9 10.5 1.1 19.5 2.7 2.5-0.2 0.5-0.2 1-1 0.4-1.5 -0.1-2.5 -2.7-19 -1.4-14 -0.6-11 -0.3-13 0.4-14.5 0.9-13.5 1.1-10.5 2.7-19.5 -0.2-2.5 -0.2-0.5 -1-1 -1.5-0.4 -2.5 0.1 -19 2.7 -14 1.4 -11 0.6 -13 0.3 -15-0.4 -13-0.9 -10.5-1.1 -19.5-2.7 -2.5 0.2 -0.5 0.2 -1 1 -0.4 1.5 0.1 2.5 2.7 19 1.4 14 0.6 11 0.3 13 -0.4 15 -0.9 13 -1.1 10.5 -2.7 19.5 0.2 2.5 0.2 0.5 1 1zM98.5 123.6l-5.5-1.5 -4 0.2 -2.5-0.6 -2-0.9 -3-1.9 -2-1.7 -0.9-1.2 -0.5-1.5 -0.1-1.5 0.1-2 0.4-3 0-1 -2.2-5 -0.3-1.5 0.2-1 1.3-3 1-3.5 0-5 0.5-3.5 0.5-1.7 1-1.9 1.5-1.7 1-0.5 2-0.5 4-0.2 3 0 3-0.8 3.5-0.2 1.5 0.1 3 0.8 4 0.7 5.5-0.7 3.5 0.1 1 0.3 1 0.5 0.7 0.7 1.1 1.5 1.2 2.5 1.1 4.5 0.2 1.5 -0.4 3 0.1 4 0.7 4.5 -0.8 6 0.8 5 -0.1 1.5 -0.3 1.5 -0.8 1.5 -1 1 -4 3 -2 1.1 -1.5 0.4 -1.5 0.1 -4-0.7 -1.5 0 -2.5 0.7 -3 1.4 -1.5 0.2z"/>
<path fill="#ffe500" d="M44.4 158l0.6 0.2 1.5 0 12.5-1.3 14-0.9 13-0.5 14-0.2 15.5 0.2 15.5 0.7 11 0.8 12.5 1.2 1.1-0.2 0.5-0.5 0.4-1.2 1.2-0.3 0.5-1 0-1.5 -1.2-11.1 -0.7-10.4 -0.8-16 -0.2-16 0.2-15.5 0.7-15.5 0.8-11 1.2-12.5 -0.2-1.1 -0.5-0.5 -1.2-0.4 -0.3-1.2 -1-0.5 -1.5 0 -11.1 1.2 -10.4 0.7 -16 0.8 -16 0.2 -15.5-0.2 -15.5-0.7 -11-0.8 -12.5-1.2 -1.1 0.2 -0.5 0.5 -0.4 1.2 -1.2 0.3 -0.5 1 0 1.5 1.2 11.1 0.7 10.4 0.8 16 0.2 16 -0.2 15.5 -0.7 15.5 -0.8 11 -1.2 12.5 0.2 1.1 0.5 0.5 1.2 0.4 0.3 1.2zM98.5 124.1l-5.5-1.6 -1-0.1 -3 0.3 -3-0.7 -2.2-1 -2.8-1.9 -2-1.6 -0.7-1 -0.6-1.5 -0.1-2 0.5-5.5 -0.2-1 -2.1-4.5 -0.2-1.5 0.1-1 1.3-3 1.1-3.5 0-5 0.5-3.5 0.4-2 0.5-1 2-2.7 1.5-0.7 1.5-0.3 4-0.2 3.5 0 3-0.8 3.5-0.2 1.5 0.1 3 0.8 4 0.7 5.5-0.7 4 0.1 1.4 0.4 0.8 0.5 2.1 3 0.9 2.5 0.9 4 0.1 1.5 -0.4 3 0.1 4 0.7 4.5 -0.8 6.5 0.8 5 -0.1 1.5 -0.3 1.5 -0.7 1.3 -1 1.1 -4.2 3.1 -1.8 0.9 -1.5 0.5 -2 0.1 -4-0.7 -1-0.1 -3 0.8 -3 1.5 -1.5 0.1z"/>
<path fill="#ffd300" d="M48.5 154.5l3 0.1 28.5-1 20-0.3 19 0.2 31 1.1 1.5-0.1 1-0.3 1.4-1.2 0.6-1.5 0.1-2.5 -1.1-30 -0.2-20 0.3-18.5 1-30.5 -0.1-1.5 -0.5-1.4 -1.1-1.1 -1.4-0.5 -3-0.1 -28.5 1 -20 0.3 -19.5-0.3 -30.5-1 -1.5 0.1 -1 0.3 -1.4 1.2 -0.6 1.5 -0.1 2.5 1 29.5 0.3 20 -0.3 19 -1 30.5 0.1 1.5 0.5 1.4 1.1 1.1 1.4 0.5zM98.5 124.6l-6-1.7 -4 0.2 -3-0.7 -2.5-1.2 -4-2.9 -0.8-0.8 -0.6-1 -0.4-1.5 -0.1-2 0.6-5.5 -2.4-5.5 -0.2-1.5 0.1-1 1.4-3 1.1-3.5 0-5.5 0.5-4 0.6-2 1.6-2.5 0.6-0.6 1.5-0.8 1.5-0.3 4.5-0.2 3.5 0.1 3-0.9 3.5-0.2 1.5 0.1 3 0.9 4.5 0.8 5.5-0.8 4 0 1 0.3 1.1 0.6 2.2 3 0.9 2.5 0.8 4 0.1 2 -0.4 3 0.1 4 0.8 4.5 -0.9 6.5 0.8 4 0.1 1.5 -0.1 1.5 -0.4 1.5 -0.6 1.2 -1 1.1 -1.5 0.9 -2.9 2.3 -2.1 1 -1.5 0.4 -1.5 0.1 -1.5-0.2 -2.5-0.6 -1.5 0 -3 0.7 -3 1.5 -1.5 0.2z"/>
<path fill="#ffc000" d="M52 152l48-0.8 17 0.2 29.5 0.7 3-0.4 0.6-0.2 1.1-1 0.3-0.5 0.4-1 0.2-2.5 -0.7-29 -0.2-17.5 0.2-17 0.7-30 -0.2-2 -0.3-1 -0.4-0.5 -1.2-1.1 -1.8-0.4 -3.7-0.1 -28.5 0.8 -16 0.1 -18.5-0.2 -28-0.7 -3 0.3 -0.6 0.3 -1.1 1 -0.3 0.5 -0.4 1 -0.2 2.5 0.7 28.5 0.2 18 -0.2 17.5 -0.7 29.5 0.2 2 0.4 1.1 1.4 1.4 1.6 0.5zM98.5 125.1l-6-1.7 -4.5 0.2 -3-0.8 -2.5-1.2 -2.5-1.9 -1.5-0.9 -0.8-0.8 -0.6-1 -0.4-1.5 -0.1-2 0.7-5 -0.1-1 -2.2-5 -0.5-2 0.2-1 1.3-3 1.3-4 -0.1-5 0.5-4.5 0.5-2 1.6-2.5 0.7-0.7 1.5-0.7 1.5-0.3 4.5-0.2 3.5 0.1 3.5-0.9 3.5-0.2 1.5 0.1 3 0.9 4.5 0.8 6-0.9 2.5-0.1 1.5 0.2 1.4 0.4 0.8 0.5 2.1 3 0.8 2 0.9 4.5 0.1 2 -0.4 3.5 0.1 4 0.8 4.5 -0.9 7 0.8 3.5 0.1 1.5 -0.1 2 -0.4 1.5 -0.6 1.2 -1 1.1 -2 1.1 -2 1.8 -2.5 1.3 -1.5 0.4 -2 0.1 -4-0.9 -1.5 0 -3 0.9 -3 1.5 -1.5 0.2z"/>
<path fill="#ffae00" d="M52.9 149l1.6 0.4 2.5 0.1 27-0.4 22.5-0.1 37 0.5 2-0.1 1.5-0.4 1.5-1.2 0.5-0.7 0.3-1.1 0.2-3 -0.5-43 0.5-43.5 -0.1-2 -0.3-1.5 -0.6-0.9 -1.3-1.1 -1.7-0.4 -2.5-0.1 -26.5 0.4 -16 0.1 -44-0.5 -2 0.1 -1.5 0.3 -1.5 1.2 -0.7 1.4 -0.3 3 0.5 38 -0.1 22 -0.4 26.5 0.1 2.5 0.4 1.5 0.5 0.8 1 1zM98 125.6l-5.5-1.6 -1-0.1 -3.5 0.3 -1.5-0.2 -2-0.6 -2.5-1.2 -2.5-1.9 -1.5-0.8 -0.9-1 -0.6-1 -0.4-1.5 -0.1-2 0.7-6 -0.2-1 -2.2-4.5 -0.4-2 0.3-1.5 1.3-2.8 1.2-3.7 -0.1-5 0.5-5 0.5-2 1.5-2.5 0.9-0.9 1.3-0.6 1.7-0.3 8.5-0.1 3-0.9 4-0.2 1.5 0.1 3 0.9 4.5 0.9 7-1 2.5-0.1 1.5 0.2 1 0.4 1 0.6 2 3 0.7 2 0.9 5 0.1 2 -0.5 3 0.1 4 0.9 5 -0.9 7 0.8 4 0.2 1.5 -0.2 2 -0.4 1.5 -0.7 1.4 -1 1 -2 1.2 -2 1.7 -2.5 1.2 -1.5 0.4 -2 0.2 -1.5-0.2 -3-0.8 -1 0 -3 0.8 -3.5 1.7 -1 0.2 -1-0.1z"/>
<path fill="#ff9c00" d="M56.8 146.5l4.2 0.2 52.5-0.2 26.5 0.2 2.5-0.1 1.5-0.3 1-0.5 0.8-0.8 0.5-1 0.3-1 0.2-3.5 -0.2-46 0.2-34 -0.2-2.5 -0.4-1.5 -1.2-1.4 -1.5-0.6 -4.5-0.3 -24.5 0.2 -54.5-0.2 -2.5 0.1 -1.5 0.3 -1 0.5 -0.8 0.9 -0.7 1.5 -0.3 3.5 0.2 24.5 -0.2 56 0.2 2.5 0.5 1.5 1.1 1.2 1.5 0.7zM97 126l-5-1.4 -4.5 0.3 -3.6-0.9 -2.9-1.3 -2-1.6 -1.5-0.8 -0.8-0.8 -0.7-1 -0.5-1.5 -0.2-2.5 0.2-2.5 0.6-3 0-1 -2.5-5.5 -0.4-2 0.3-1.5 1.4-3 1.2-3.5 0.1-1 -0.2-3 0-2 0.4-4.5 0.6-2.5 1.5-2.3 0.7-0.7 1.3-0.7 1.6-0.3 5.4-0.1 3.5 0.1 1-0.1 2.5-0.9 4-0.2 1.5 0.1 3.5 1.1 4.5 0.8 4.5-0.8 3-0.3 2.5-0.1 1.5 0.3 1 0.4 0.9 0.7 1.9 3 0.7 2.5 0.8 5 0.1 1.5 -0.5 3.5 0.1 4 0.8 5 -0.9 7 0.9 4 0.2 2 -0.2 2 -0.6 2 -0.7 1.3 -1 0.9 -1.5 0.9 -2.5 2 -2.5 1.1 -2 0.5 -1.5 0.1 -1.5-0.2 -3-0.8 -1.5-0.1 -3 0.8 -3 1.6 -1 0.3 -1 0.1 -1.5-0.3z"/>
<path fill="#ff8900" d="M59.7 144l4.3 0.2 34.5 0.3 15-0.4 23 0.2 4.5-0.4 1-0.4 1.2-1 0.6-1 0.3-1.5 0.3-5 -0.1-73 -0.2-2.5 -0.6-1.8 -1.1-1.2 -1.9-0.7 -5-0.2 -20.5 0.2 -16.5-0.2 -36 0.1 -2.5 0.1 -1.5 0.3 -1 0.6 -0.8 0.8 -0.5 1 -0.3 1 -0.2 3.5 0.1 22 -0.3 16 0.3 14 -0.1 22.5 0.3 3 0.5 1.5 1.5 1.5 1.5 0.5zM98.5 127.1l-6.5-1.9 -5 0.3 -3.5-0.8 -3-1.4 -3.5-2.3 -1-0.9 -0.7-1.1 -0.5-2 -0.1-2 0.2-2.5 0.6-3 0-1.3 -2.4-5.2 -0.5-1.5 -0.1-1 0.3-1.5 1.4-3 1.3-4 -0.1-5 0.3-5.5 0.6-2.5 1.5-2.5 0.7-0.7 1.5-0.7 1.5-0.3 5.5-0.1 4 0.2 3.5-1 4.5-0.2 1.5 0.2 3 0.9 5 0.9 5.5-1 3-0.3 2 0.1 1.5 0.3 1.2 0.7 1.9 2.5 0.9 2.5 0.9 5.5 0.1 2 -0.5 4 0.1 4 0.9 5 -1 7.5 0.9 4 0.2 2 -0.1 2 -0.5 1.8 -0.9 1.7 -1.1 1 -1.5 0.9 -2 1.6 -2.5 1.2 -2 0.5 -2 0.2 -2-0.2 -3-0.9 -1.5 0 -3 0.9 -3.5 1.8 -1.5 0.2z"/>
<path fill="#ff7700" d="M91.1 142l8.4 0.2 13-0.6 10 0.3 13-0.2 2-0.2 1.5-0.3 1-0.6 1-1.1 0.5-1.3 0.3-1.7 0.2-8.5 -0.2-14 0.2-12.5 -0.2-8 0-30.5 -0.6-2.5 -1.2-1.5 -1-0.5 -1-0.2 -3-0.3 -21 0.4 -15.5-0.5 -14 0.3 -20-0.1 -2 0.1 -1.5 0.4 -1 0.5 -1.2 1.4 -0.4 1.5 -0.2 2.5 0.1 21.5 -0.5 15 0.5 13.5 -0.2 10.5 0 8.5 0.3 3.5 0.4 2 0.7 1 1 0.9 1 0.4 1.5 0.2 14 0.4 9-0.1 5 0.2zM97.5 127.6l-6-1.8 -4.5 0.4 -2-0.3 -2.5-0.8 -2.6-1.1 -3.4-2.2 -1-0.9 -0.9-1.4 -0.5-2 -0.1-2 0.2-2.5 0.7-3.5 0-1 -0.3-1 -2.2-4.5 -0.4-1.5 -0.1-1 0.3-1.5 1.3-3 1.4-4 0.1-1 -0.3-3.5 0.3-5.5 0.3-2.5 0.4-1.5 1.3-2 1-1 1.5-0.6 1.5-0.3 6 0 3.5 0.1 1-0.1 3-0.9 4.5-0.2 1.5 0.2 3 1 5 0.9 4.5-0.9 3-0.4 2.5-0.1 2 0.2 1 0.4 1.1 0.7 1.9 2.8 0.7 2.2 0.9 6 0.1 2 -0.6 3.5 0.1 4.5 0.9 5 -0.4 4.5 -0.5 3 0.9 4.5 0.2 2 -0.1 2 -0.6 2 -0.8 1.5 -1.3 1.3 -1.5 0.9 -2 1.5 -3 1.3 -2 0.5 -2 0.1 -1.5-0.2 -3-0.9 -1.5-0.1 -3 0.8 -4 1.9 -1 0.2 -1.5-0.1z"/>
<path fill="#ff6500" d="M94.1 139.5l6.4 0.2 11.5-1 9 0.5 12-0.3 2-0.3 1.5-0.6 1.2-1 0.7-1 0.5-1.5 0.2-2 0.3-8 0-5 -0.4-6.5 0.3-11.5 -0.3-8 0-6.5 0.2-6 -0.1-15 -0.5-2.5 -1.2-1.5 -0.6-0.5 -1.2-0.5 -2.6-0.3 -8 0 -12 0.6 -14.5-0.8 -7 0.1 -6 0.4 -18-0.3 -2.5 0.3 -1.5 0.4 -0.8 0.6 -1.1 1.5 -0.5 1.5 -0.1 2.5 0.3 19.5 -1.1 14 0.3 5 0.7 7 -0.3 8.5 -0.1 6.5 0.2 5 0.5 2.5 0.5 1 1.5 1.4 1 0.4 1.5 0.3 13.5 0.6 8-0.1 6.5 0.4zM99 128.5l-1.5-0.2 -6-1.7 -1-0.1 -3.5 0.4 -1.5-0.1 -2-0.5 -2.5-0.8 -2-0.9 -4-2.7 -1.2-1.9 -0.5-2.5 0-3 0.9-4.5 0-1.5 -2.5-5.5 -0.5-2.5 0.2-1.5 1.5-3.5 1.3-4 -0.2-5 0.3-6 0.3-2 0.5-1.5 1.4-2 1.5-1.1 2-0.5 6.5-0.1 4 0.2 3.5-1 4.5-0.2 1.5 0.1 3.5 1 5 1 6-1.1 4.5-0.3 2.5 0.3 1 0.4 1 0.7 1.7 2.6 0.6 1.5 0.3 2 0.8 6.5 -0.6 4 0.1 5 0.8 3.5 0.2 1.5 -1 8 1 4.5 0.1 3.5 -0.3 1.5 -0.5 1.5 -1.4 2 -4.3 3.1 -1.5 0.7 -2 0.6 -2 0.4 -2 0 -4.5-1.2 -1.5 0 -3 0.8 -3.5 1.8 -1.5 0.3z"/>
<path fill="#ff5200" d="M94.9 136l3.1 0.3 2.5 0 6-1.3 4-0.6 1.5 0.1 4 0.7 3 0.2 4-0.1 5.5-0.4 2-0.4 1.5-0.7 2-1.6 0.8-1.2 0.4-1.5 0.3-2 0.4-6 -0.2-4 -0.6-6 0.6-10 -0.6-7 -0.1-6 0.5-6 -0.3-12 -0.2-1.8 -0.4-1.2 -1.6-2 -1-0.7 -2-0.4 -3-0.2 -4 0.2 -11.5 1.1 -12.5-1.4 -6.5 0.1 -5.5 0.7 -16-0.4 -2 0.3 -1.5 0.6 -1.5 1.6 -0.5 0.7 -0.5 1.8 -0.1 2 0.5 17 -1.7 10 -0.2 2.5 0.6 5 1.3 6 -0.7 7 -0.2 5 0.3 4.5 0.7 2.5 0.7 1 1.8 1.5 1 0.5 1.8 0.5 10.7 0.9 7-0.2 6 0.8zM97 129l-6-1.6 -5 0.4 -2.5-0.4 -2.5-0.8 -3-1.2 -3-2 -1.1-0.9 -0.9-1.5 -0.5-2 -0.1-2.5 0.3-3 0.7-3.5 0-1 -2.6-6 -0.5-2.5 0.5-2 1.2-2.9 1.4-4.6 -0.2-4 0.2-6.5 0.2-2.5 0.4-1.5 1.3-2 1-1 1.2-0.6 2-0.4 10.5 0.2 1-0.2 3-0.9 5-0.2 1.5 0.2 3 0.9 5.5 1.1 4.5-0.9 3.5-0.5 3-0.1 2 0.2 1.5 0.6 0.8 0.6 1.8 2.5 0.7 2.5 0.9 6.5 0 2.5 -0.5 3.5 0.1 4.5 0.9 5.5 -0.4 4.5 -0.6 3.5 1 4.5 0.2 2.5 -0.2 2.5 -0.5 2 -0.8 1.5 -1.4 1.4 -3.5 2.5 -3 1.2 -2.5 0.5 -2 0.1 -2-0.3 -3-0.9 -1.5-0.1 -3.5 0.9 -4 1.9 -1.5 0.2 -1.5-0.2z"/>
<path fill="#ff4000" d="M96.1 133.5l2.4 0.3 2-0.1 5-1.5 4-0.9 1.5 0.1 3.5 0.8 2.5 0.3 3 0 4.1-0.5 2.1-0.5 1.1-0.5 2.2-1.9 1.5-0.8 1.1-1.3 0.8-3 0.3-4.5 -0.2-3.5 -0.9-5 0.9-10 -0.8-6 -0.1-5.5 0.5-5.5 -0.4-10 -0.2-1.5 -0.5-1.5 -1.4-1.5 -0.4-1 -1.2-0.9 -1.5-0.4 -2.5-0.2 -4 0.3 -4.5 0.5 -5.5 0.9 -11.5-1.9 -6 0.1 -5 0.9 -11-0.5 -3 0.1 -2 0.4 -1 0.5 -0.6 0.7 -0.3 1 -1.1 0.8 -0.4 0.7 -0.4 1.5 -0.1 2 0.1 9.5 0.3 5 -2.2 8.5 -0.3 2.5 0.5 3.9 0.7 2.6 1.1 3 0.2 1 -0.9 6 -0.2 3.5 0.1 3.5 0.6 2.5 0.4 0.8 0.6 0.7 0.9 0.4 3 2.3 2 0.7 3.5 0.6 4.5 0.6 6.5-0.3 6.5 1.2zM96.5 129.5l-5.5-1.4 -1-0.1 -2.5 0.4 -2 0 -1.5-0.2 -3.5-0.9 -3-1.2 -3-1.9 -1.3-1.2 -0.9-1.5 -0.5-2 -0.1-3 1.1-7 -0.3-1.2 -1.2-2.3 -1-2.5 -0.5-2 -0.1-1 0.4-2 1.4-3.4 1.3-4.1 -0.3-4.5 0.2-6.5 0.1-2 0.5-2 0.5-1 1.7-2.1 1.5-0.7 2-0.4 11 0.2 4-1 5-0.2 2 0.3 2.9 0.9 5.1 1 8-1.4 3.5-0.2 2.5 0.4 1 0.4 1 0.7 1.8 2.6 0.8 3 0.7 6 0.1 2.5 -0.6 4 0.1 4.5 0.1 1.2 0.7 2.8 0.2 1.5 -1 8.5 0.9 4 0.2 3 -0.2 3 -0.6 2 -0.9 1.5 -1.3 1.2 -3 2.1 -3.5 1.4 -2.5 0.5 -2.5 0.1 -2.5-0.5 -2.5-0.7 -1.5-0.1 -3.5 1 -4 1.8 -1.5 0.2 -2-0.3z"/>
</g>
<g id="cfb">
<rect width="200" height="200" fill="rgb(0,28,255)"/>
<path fill="#0054ff" d="M0 200l200 0 0-200 -200 0 0 199.5zM98.5 101.5l-0.3-0.5 -0.1-1 0.1-1 0.3-0.5 0.5-0.3 1-0.1 1 0.1 0.5 0.3 0.3 0.5 0.1 1 -0.1 1 -0.3 0.5 -1 0.4 -1.5-0.1z"/>
<path fill="#008cff" d="M0 200l200 0 0-200 -200 0 0 199.5zM98.5 102.7l-0.5-0.2 -0.5-0.5 -0.2-0.5 -0.1-2 0.3-1.4 0.5-0.6 0.5-0.2 3 0 0.5 0.2 0.5 0.5 0.2 0.5 0 2.5 -0.2 1 -0.5 0.5 -0.5 0.2 -2.5 0z"/>
<path fill="#00c4ff" d="M0 200l200 0 0-200 -200 0 0 199.5zM98 103.2l-1-0.7 -0.3-1 -0.1-2.5 0.4-1.5 0.5-0.5 1-0.3 2.5-0.1 1 0.2 1 0.7 0.3 1 0.1 2.5 -0.4 1.5 -0.6 0.5 -0.9 0.3 -3 0z"/>
<path fill="#00fcff" d="M0 200l200 0 0-200 -200 0 0 199.5zM97.5 103.7l-0.9-0.7 -0.5-1 0-3.5 0.5-1.5 0.9-0.7 1-0.2 2.5 0 1.5 0.2 0.9 0.7 0.5 1 0 3.5 -0.4 1.4 -0.6 0.6 -0.9 0.4 -4 0z"/>
<path fill="#00ffef" d="M0 200l200 0 0-200 -200 0 0 199.5zM97 104.5l-1-0.7 -0.6-1.3 -0.2-4 0.2-1 0.3-1 0.8-0.8 1.5-0.4 3.5-0.1 1.5 0.3 1 0.6 0.6 1.4 0.2 4 -0.2 1 -0.3 1 -0.8 0.8 -1 0.3 -2.5 0.2 -2.5-0.2z"/>
<path fill="#00ffdd" d="M0 200l200 0 0-200 -200 0 0 199.5zM96.5 105.5l-1-0.5 -0.5-0.5 -0.6-1.5 -0.1-5.5 0.2-1.1 0.5-0.9 1-0.8 1.5-0.4 4 0 2 0.2 1 0.4 0.5 0.5 0.6 1.6 0.1 5 -0.4 2 -0.8 1 -1.5 0.6 -3 0.2 -3-0.2z"/>
<path fill="#00ffcc" d="M0 200l200 0 0-200 -200 0 0 199.5zM97.5 106.5l-1.5-0.2 -1-0.5 -0.9-0.8 -0.4-1 -0.2-2 0-3.5 0.1-2 0.3-1 0.7-1 1.4-0.8 2.5-0.3 4 0.1 1.5 0.2 1 0.4 0.9 0.9 0.4 1 0.2 1.5 0 4 -0.1 2 -0.3 1 -0.7 1 -1.4 0.8 -1.5 0.2 -4.5 0z"/>
<path fill="#00ffba" d="M0 200l200 0 0-200 -200 0 0 199.5zM96 107.1l-1-0.3 -1.1-0.8 -0.7-1 -0.3-1 -0.2-3.5 0.1-3.5 0.3-1.5 0.4-1 1-1 1.5-0.6 3.5-0.1 4.5 0.1 1 0.3 1 0.7 0.5 0.6 0.6 1.5 0.1 7 -0.2 1.5 -0.5 1 -1 1 -1.5 0.6 -4 0.2 -3.5-0.2z"/>
<path fill="#00ffa9" d="M0 200l200 0 0-200 -200 0 0 199.5zM95 107.5l-1.1-0.5 -0.9-0.9 -0.5-1 -0.2-1.1 -0.2-3.5 0.1-4 0.3-1.5 0.5-1.1 1-1 2-0.6 5.5-0.1 3.5 0.3 1.2 0.5 0.8 0.9 0.5 1 0.2 1.1 0.1 7.5 -0.3 1.5 -0.4 1 -1.1 1.1 -0.9 0.4 -1.1 0.2 -4.5 0.2 -4-0.3z"/>
<path fill="#00ff98" d="M0 200l200 0 0-200 -200 0 0 199.5zM95 108.1l-1-0.3 -1.1-0.8 -0.7-1 -0.3-1 -0.3-4.5 0.1-4 0.3-1.9 0.5-1.1 1-1 1-0.5 1-0.2 4.5-0.2 5 0.3 1 0.3 1.1 0.8 0.7 1 0.4 1.5 0.2 4.5 -0.1 4 -0.3 1.5 -0.5 1 -1 1 -1 0.5 -1 0.2 -4.5 0.2 -4.5-0.2z"/>
<path fill="#00ff86" d="M0 200l200 0 0-200 -200 0 0 199.5zM95 108.6l-1.5-0.5 -1-0.8 -0.6-0.8 -0.5-1.5 -0.3-4.5 0.2-4.5 0.2-1.5 0.5-1.2 1.2-1.3 1.8-0.6 4.5-0.2 5.5 0.2 1.5 0.4 0.9 0.7 0.7 1 0.5 1.5 0.2 3 -0.1 6 -0.2 1.5 -0.3 1 -1.5 1.5 -1.7 0.6 -5 0.2 -4.5-0.1z"/>
<path fill="#00ff75" d="M0 200l200 0 0-200 -200 0 0 199.5zM95 109.1l-1.5-0.4 -1.1-0.7 -0.8-1 -0.6-1.5 -0.3-5 0.2-4.5 0.1-1.5 0.6-1.5 0.8-1 0.6-0.5 2-0.6 4.5-0.1 5.5 0.1 1.5 0.4 1 0.6 1 1.1 0.5 1.5 0.2 2 0 7.5 -0.2 1.5 -0.5 1.4 -1.5 1.5 -2 0.7 -5 0.2 -4.5-0.2z"/>
<path fill="#00ff63" d="M0 200l200 0 0-200 -200 0 0 199.5zM95 109.5l-1.5-0.3 -1.3-0.7 -1-1 -0.6-1.5 -0.4-5.5 0.2-4.5 0.2-2 0.6-1.5 1.3-1.3 2-0.7 4-0.2 6.5 0.2 1.5 0.2 1.4 0.8 0.9 1 0.6 1.5 0.2 2 0 8 -0.2 2 -0.3 1 -1.2 1.5 -1.9 0.9 -6 0.3 -4.5-0.1z"/>
<path fill="#00ff52" d="M0 200l200 0 0-200 -200 0 0 199.5zM94 110l-1.6-0.5 -1.3-1 -0.7-1 -0.4-1.5 -0.3-5.5 0.2-5 0.2-2 0.6-1.5 1.3-1.3 1-0.5 1.5-0.3 5-0.2 7 0.4 1.5 0.5 1 0.9 0.6 1 0.4 1.5 0.3 6 -0.1 4.5 -0.2 2 -0.5 1.2 -1.5 1.6 -2 0.7 -6 0.3 -5.5-0.2z"/>
<path fill="#00ff40" d="M0 200l200 0 0-200 -200 0 0 199.5zM98 111l-3.5-0.1 -2-0.4 -1.5-0.8 -0.7-0.7 -0.6-1 -0.5-2 -0.3-6 0.3-5.5 0.5-2.5 0.5-1 1.1-1 2.2-0.7 4.5-0.3 7.5 0.2 2 0.3 1.2 0.5 1.1 1 0.7 1.5 0.4 2.5 0.1 5.5 -0.1 5 -0.4 2 -0.4 1 -0.6 0.7 -0.9 0.8 -1.2 0.5 -1.9 0.4 -7 0.1z"/>
<path fill="#00ff2f" d="M0 200l200 0 0-200 -200 0 0 199.5zM93 111.5l-1.7-0.5 -1.5-1 -0.8-1.2 -0.6-1.8 -0.4-7 0.4-6.5 0.3-1.5 0.7-1.5 0.6-0.8 1-0.7 2.5-0.6 6-0.3 8 0.4 1.5 0.5 1.3 1 0.7 1.1 0.5 1.9 0.2 1.5 0.1 5.5 0 5.5 -0.3 2 -0.6 1.5 -0.7 1 -1.2 0.9 -2.5 0.7 -7 0.4 -6-0.4z"/>
<path fill="#00ff1e" d="M0 200l200 0 0-200 -200 0 0 199.5zM95 112.5l-2.5-0.3 -2.1-0.7 -1.4-1.1 -1-1.7 -0.3-1.7 -0.5-6.5 0.6-8 0.8-2.5 0.8-1 1.1-0.7 1-0.4 2-0.3 6-0.3 7 0.3 2 0.3 1.5 0.6 0.6 0.5 0.8 1 0.6 1.5 0.5 2.5 0.1 6.5 -0.2 7 -0.5 1.5 -0.9 1.5 -1 0.8 -1.5 0.7 -2 0.4 -3 0 -3.5 0.3 -4.5-0.2z"/>
<path fill="#00ff0c" d="M0 200l92.6 0 3.9-0.9 3.5-0.6 3.5 0.6 3.9 0.9 92.6 0 0-92.6 -0.9-3.9 -0.6-3.5 0.6-3.5 0.9-3.9 0-92.6 -92.6 0 -3.9 0.9 -3.5 0.6 -3.5-0.6 -3.9-0.9 -92.6 0 0 92.6 0.9 3.9 0.6 3.5 -0.6 3.5 -0.9 3.9 0 92.1zM93 113.1l-2.2-0.6 -1.8-1 -1.3-1.5 -0.5-1.5 -0.7-8.5 0.6-7.5 0.4-1.8 0.5-1.2 0.7-1 0.8-0.6 1-0.5 2-0.4 6.5-0.4 8.6 0.4 2.2 0.5 1.5 1 1 1.5 0.6 2 0.3 2 0.1 6 -0.1 6.5 -0.3 2 -0.6 1.5 -0.7 1 -1.1 0.9 -1.5 0.7 -1.5 0.4 -4 0.1 -4 0.4 -6-0.4z"/>
<path fill="#05ff00" d="M0 200l79 0 3.9-2 4.6-1.6 6-1.3 6.5-0.8 6.5 0.8 6 1.3 4.6 1.6 3.9 2 79 0 0-79 -2-3.9 -1.6-4.6 -1.3-6 -0.8-6.5 0.8-6.5 1.3-6 1.6-4.6 2-3.9 0-79 -79 0 -3.9 2 -4.6 1.6 -6 1.3 -6.5 0.8 -6.5-0.8 -6-1.3 -4.6-1.6 -3.9-2 -79 0 0 79 2 3.9 1.6 4.6 1.3 6 0.8 6.5 -0.8 6.5 -1.3 6 -1.6 4.6 -2 3.9 0 78.5zM99 114.5l-6-0.4 -2.5-0.5 -1.3-0.6 -1.2-0.8 -1.3-1.7 -0.7-2.5 -0.1-3.5 -0.5-4 0.6-5 0.1-3 0.5-2.5 0.6-1.5 0.8-1 1.5-0.9 1.5-0.4 8-0.6 5.5 0.4 3 0 2.5 0.3 1.5 0.7 1.4 1.5 0.8 2 0.4 2.5 0.2 7.5 -0.1 6.5 -0.2 2 -0.6 1.5 -0.9 1.3 -1 0.9 -1.5 0.8 -2.5 0.6 -3.5-0.1 -4.5 0.5z"/>
<path fill="#16ff00" d="M0 200l69.6 0 2.9-2 2.9-1.5 3.6-1.5 4-1.4 7-1.7 5-0.8 5-0.5 5 0.5 5 0.8 7 1.7 4 1.4 3.6 1.5 2.9 1.5 2.9 2 69.6 0 0-69.6 -2-2.9 -1.5-2.9 -1.5-3.6 -1.4-4 -1.7-7 -0.8-5 -0.5-5 0.5-5 0.8-5 1.7-7 1.4-4 1.5-3.6 1.5-2.9 2-2.9 0-69.6 -69.6 0 -2.9 2 -2.9 1.5 -3.6 1.5 -4 1.4 -7 1.7 -5 0.8 -5 0.5 -5-0.5 -5-0.8 -7-1.7 -4-1.4 -3.6-1.5 -2.9-1.5 -2.9-2 -69.6 0 0 69.6 2 2.9 1.5 2.9 1.5 3.6 1.4 4 1.7 7 0.8 5 0.5 5 -0.5 5 -0.8 5 -1.7 7 -1.4 4 -1.5 3.6 -1.5 2.9 -2 2.9 0 69.1zM99 115.5l-4-0.4 -2.5-0.1 -2-0.4 -2.6-1.1 -1.2-1 -0.7-1 -0.5-1 -0.3-1.5 -0.1-4 -0.7-4.5 0.7-5 0.1-3.5 0.5-2.5 0.5-1.5 0.8-1.1 1.1-0.9 1.9-0.6 2.5-0.4 6-0.3 6.5 0.4 3 0 2.5 0.3 2 0.9 1.3 1.7 0.8 2 0.4 2.5 0.3 8 -0.3 4.5 0.1 3 -0.3 2 -0.7 1.5 -1.1 1.3 -1.5 1.1 -1.3 0.6 -2.2 0.5 -3.5-0.1 -5 0.7z"/>
<path fill="#27ff00" d="M0 200l61.3 0 2.5-2 3.5-2 5.5-2.5 6.2-2.3 5-1.5 4.5-1 6-0.9 5.5-0.5 5.5 0.5 6 0.9 4.5 1 5 1.5 6.2 2.3 5.5 2.5 3.5 2 2.5 2 61.3 0 0-61.3 -2-2.5 -2-3.5 -2.5-5.5 -2.3-6.2 -1.5-5 -1-4.5 -0.9-6 -0.5-5.5 0.5-5.5 0.9-6 1-4.5 1.5-5 2.3-6.2 2.5-5.5 2-3.5 2-2.5 0-61.3 -61.3 0 -2.5 2 -3.5 2 -5.5 2.5 -6.2 2.3 -5 1.5 -4.5 1 -6 0.9 -5.5 0.5 -5.5-0.5 -6-0.9 -4.5-1 -5-1.5 -6.2-2.3 -5.5-2.5 -3.5-2 -2.5-2 -61.3 0 0 61.3 2 2.5 2 3.5 2.5 5.5 2.3 6.2 1.5 5 1 4.5 0.9 6 0.5 5.5 -0.5 5.5 -0.9 6 -1 4.5 -1.5 5 -2.3 6.2 -2.5 5.5 -2 3.5 -2 2.5 0 60.8zM96 116l-4.5-0.3 -3-0.9 -1.4-0.8 -1.1-0.9 -0.8-1.1 -0.5-1 -0.4-2 0-4 -0.7-3.5 -0.1-1.5 0.8-5 0.3-4 0.3-2 0.6-1.5 0.6-1 1-1 1.4-0.7 2-0.4 8.5-0.6 6 0.6 5 0 2 0.5 1.6 1.1 1.2 2 0.8 2.5 0.2 2 0 5 0.3 3 -0.3 4.5 0.1 3.5 -0.5 2.5 -0.8 1.5 -1.1 1.1 -1.5 1.1 -2 0.8 -2 0.3 -3.5-0.2 -4.5 0.8 -3.5-0.3z"/>
<path fill="#39ff00" d="M0 200l54.2 0 1.5-1.5 1.9-1.5 4.4-2.7 5.1-2.3 8.9-3.4 5.5-1.6 5.5-1.2 6.5-0.8 6.5-0.6 6.5 0.6 6.5 0.8 5.5 1.2 5.5 1.6 8.9 3.4 5.1 2.3 4.4 2.7 1.9 1.5 1.5 1.5 54.2 0 0-54.2 -1.5-1.5 -1.5-1.9 -2.7-4.4 -2.3-5.1 -3.4-8.9 -1.6-5.5 -1.2-5.5 -0.8-6.5 -0.6-6.5 0.6-6.5 0.8-6.5 1.2-5.5 1.6-5.5 3.4-8.9 2.3-5.1 2.7-4.4 1.5-1.9 1.5-1.5 0-54.2 -54.2 0 -1.5 1.5 -1.9 1.5 -4.4 2.7 -5.1 2.3 -8.9 3.4 -5.5 1.6 -5.5 1.2 -6.5 0.8 -6.5 0.6 -6.5-0.6 -6.5-0.8 -5.5-1.2 -5.5-1.6 -8.9-3.4 -5.1-2.3 -4.4-2.7 -1.9-1.5 -1.5-1.5 -54.2 0 0 54.2 1.5 1.5 1.5 1.9 2.7 4.4 2.3 5.1 3.4 8.9 1.6 5.5 1.2 5.5 0.8 6.5 0.6 6.5 -0.6 6.5 -0.8 6.5 -1.2 5.5 -1.6 5.5 -3.4 8.9 -2.3 5.1 -2.7 4.4 -1.5 1.9 -1.5 1.5 0 53.7zM98 117l-3.5-0.5 -3 0 -2.5-0.7 -1.8-0.8 -1.2-0.8 -1-1 -0.7-1.2 -0.6-2.5 0-4 -1-5 1-5.5 0.2-4.5 0.7-3 0.8-1.5 1.1-1.1 1.5-0.7 2-0.4 9-0.7 6 0.6 3.5-0.1 2.5 0.2 2 0.7 1.5 1.2 1 1.8 0.9 3.5 0.1 6.5 0.3 3 -0.3 5 0.1 3.5 -0.5 2.5 -0.9 1.5 -1.2 1.3 -1.5 1 -1.7 0.7 -2.3 0.4 -4-0.1 -4.5 0.9 -1.5-0.1z"/>
<path fill="#4aff00" d="M0 200l47.5 0 1.3-1.5 1.6-1.5 5.1-3.5 6.5-3.3 6.9-2.7 7.6-2.4 7.5-1.7 7-1 9-0.7 9 0.7 7 1 7.5 1.7 7.6 2.4 6.9 2.7 6.5 3.3 5.1 3.5 1.6 1.5 1.3 1.5 47.5 0 0-47.5 -1.5-1.3 -1.5-1.6 -3.5-5.1 -3.3-6.5 -2.7-6.9 -2.4-7.6 -1.7-7.5 -1-7 -0.7-9 0.7-9 1-7 1.7-7.5 2.4-7.6 2.7-6.9 3.3-6.5 3.5-5.1 1.5-1.6 1.5-1.3 0-47.5 -47.5 0 -1.3 1.5 -1.6 1.5 -5.1 3.5 -6.5 3.3 -6.9 2.7 -7.6 2.4 -7.5 1.7 -7 1 -9 0.7 -9-0.7 -7-1 -7.5-1.7 -7.6-2.4 -6.9-2.7 -6.5-3.3 -5.1-3.5 -1.6-1.5 -1.3-1.5 -47.5 0 0 47.5 1.5 1.3 1.5 1.6 3.5 5.1 3.3 6.5 2.7 6.9 2.4 7.6 1.7 7.5 1 7 0.7 9 -0.7 9 -1 7 -1.7 7.5 -2.4 7.6 -2.7 6.9 -3.3 6.5 -3.5 5.1 -1.5 1.6 -1.5 1.3 0 47zM97 117.6l-2.5-0.5 -3.5 0 -3-0.9 -1.5-0.8 -1.3-0.9 -0.9-1 -0.8-1.5 -0.5-2.5 0.1-4 -1.1-5 1.1-6 0-2.5 0.3-2.5 0.9-3 0.9-1.5 1.3-1 1.5-0.6 2-0.3 9-0.7 6.5 0.8 3.5-0.2 2.5 0.2 2 0.6 1.5 1.3 1.1 1.9 0.9 3.5 0.2 1.5 -0.1 5.5 0.3 3 -0.3 5 0.2 4 -0.6 2.5 -0.9 1.5 -1.3 1.3 -1.5 1 -2 0.9 -2.5 0.4 -2.5-0.3 -1.5 0.1 -4.5 1 -2.5-0.3z"/>
<path fill="#5bff00" d="M0 200l40.7 0 1.1-1.5 2.1-2 4.9-3.5 7.7-4.4 6.5-2.7 9.6-2.9 9.4-2.2 7.5-1.1 10.5-0.8 10.5 0.8 7.5 1.1 9.4 2.2 9.6 2.9 6.5 2.7 7.7 4.4 4.9 3.5 2.1 2 1.1 1.5 40.7 0 0-40.7 -1.5-1.1 -2-2.1 -3.5-4.9 -4.4-7.7 -2.7-6.5 -2.9-9.6 -2.2-9.4 -1.1-7.5 -0.8-10.5 0.8-10.5 1.1-7.5 2.2-9.4 2.9-9.6 2.7-6.5 4.4-7.7 3.5-4.9 2-2.1 1.5-1.1 0-40.7 -40.7 0 -1.1 1.5 -2.1 2 -4.9 3.5 -7.7 4.4 -6.5 2.7 -9.6 2.9 -9.4 2.2 -7.5 1.1 -10.5 0.8 -10.5-0.8 -7.5-1.1 -9.4-2.2 -9.6-2.9 -6.5-2.7 -7.7-4.4 -4.9-3.5 -2.1-2 -1.1-1.5 -40.7 0 0 40.7 1.5 1.1 2 2.1 3.5 4.9 4.4 7.7 2.7 6.5 2.9 9.6 2.2 9.4 1.1 7.5 0.8 10.5 -0.8 10.5 -1.1 7.5 -2.2 9.4 -2.9 9.6 -2.7 6.5 -4.4 7.7 -3.5 4.9 -2 2.1 -1.5 1.1 0 40.2zM98.5 118.5l-4-0.7 -3.5-0.1 -2.5-0.6 -2-0.9 -1.5-1 -1-1 -0.8-1.2 -0.7-2.5 0-5 -1.3-5 1.3-6 0.2-4 0.8-4 0.7-1.5 1.3-1.3 1.5-0.7 2-0.4 5-0.3 2.5-0.5 2.5 0 6.5 0.8 3.5-0.2 2.5 0.1 2.5 0.7 1.5 1.3 1.1 2 0.9 3.2 0.3 1.8 -0.1 6 0.4 3 -0.4 5.5 0.2 3.5 -0.4 2.5 -0.8 1.5 -1.2 1.4 -1.5 1.1 -2 1 -1.5 0.5 -1.5 0.2 -4-0.3 -2 0.3 -2.5 0.8 -1.5 0.1z"/>
<path fill="#6cff00" d="M0 200l35.2 0 1.3-2 1.5-1.6 2.4-1.9 3.1-2.2 8.1-4.8 3.9-1.8 4-1.6 9-2.7 12.5-2.8 8.5-1.3 10.5-0.8 10.5 0.8 8.5 1.3 12.5 2.8 9 2.7 4 1.6 3.9 1.8 8.1 4.8 3.1 2.2 2.4 1.9 1.5 1.6 1.3 2 35.2 0 0-35.2 -2-1.3 -1.6-1.5 -1.9-2.4 -2.2-3.1 -4.8-8.1 -1.8-3.9 -1.6-4 -2.7-9 -2.8-12.5 -1.3-8.5 -0.8-10.5 0.8-10.5 1.3-8.5 2.8-12.5 2.7-9 1.6-4 1.8-3.9 4.8-8.1 2.2-3.1 1.9-2.4 1.6-1.5 2-1.3 0-35.2 -35.2 0 -1.3 2 -1.5 1.6 -2.4 1.9 -3.1 2.2 -8.1 4.8 -3.9 1.8 -4 1.6 -9 2.7 -12.5 2.8 -8.5 1.3 -10.5 0.8 -10.5-0.8 -8.5-1.3 -12.5-2.8 -9-2.7 -4-1.6 -3.9-1.8 -8.1-4.8 -3.1-2.2 -2.4-1.9 -1.5-1.6 -1.3-2 -35.2 0 0 35.2 2 1.3 1.6 1.5 1.9 2.4 2.2 3.1 4.8 8.1 1.8 3.9 1.6 4 2.7 9 2.8 12.5 1.3 8.5 0.8 10.5 -0.8 10.5 -1.3 8.5 -2.8 12.5 -2.7 9 -1.6 4 -1.8 3.9 -4.8 8.1 -2.2 3.1 -1.9 2.4 -1.6 1.5 -2 1.3 0 34.7zM98.5 119l-4.5-0.8 -3.5-0.1 -2.3-0.6 -2.2-1 -1.5-1 -1-1 -0.9-1.5 -0.6-2.6 0.1-4.4 -1.4-5.5 1.4-6 0.1-4 1-4.5 0.7-1.5 1.1-1.1 1.5-0.8 2-0.4 5-0.3 2.5-0.5 3-0.1 7 0.9 3.5-0.2 2.5 0.1 1.5 0.3 1 0.5 1.5 1.3 1 1.8 1 3.7 0.2 1.8 0 6 0.3 3 -0.4 5.5 0.3 4 -0.4 2.1 -1 1.9 -1 1.2 -1.7 1.3 -2.1 1 -2.7 0.6 -4.5-0.3 -2 0.4 -2.5 0.8 -1.5 0.1z"/>
<path fill="#7dff00" d="M0 200l30.4 0 1.2-2 1.6-2 2.3-2.1 3-2.3 4.8-3.1 3.6-2 4.2-2 4.4-1.8 4.5-1.5 5-1.4 14-3.3 9.5-1.4 11.5-0.8 11.5 0.8 9.5 1.4 14 3.3 5 1.4 4.5 1.5 4.4 1.8 4.2 2 3.6 2 4.8 3.1 3 2.3 2.3 2.1 1.6 2 1.2 2 30.4 0 0-30.4 -2-1.2 -2-1.6 -2.1-2.3 -2.3-3 -3.1-4.8 -2-3.6 -2-4.2 -1.8-4.4 -1.5-4.5 -1.4-5 -3.3-14 -1.4-9.5 -0.8-11.5 0.8-11.5 1.4-9.5 3.3-14 1.4-5 1.5-4.5 1.8-4.4 2-4.2 2-3.6 3.1-4.8 2.3-3 2.1-2.3 2-1.6 2-1.2 0-30.4 -30.4 0 -1.2 2 -1.6 2 -2.3 2.1 -3 2.3 -4.8 3.1 -3.6 2 -4.2 2 -4.4 1.8 -4.5 1.5 -5 1.4 -14 3.3 -9.5 1.4 -11.5 0.8 -11.5-0.8 -9.5-1.4 -14-3.3 -5-1.4 -4.5-1.5 -4.4-1.8 -4.2-2 -3.6-2 -4.8-3.1 -3-2.3 -2.3-2.1 -1.6-2 -1.2-2 -30.4 0 0 30.4 2 1.2 2 1.6 2.1 2.3 2.3 3 3.1 4.8 2 3.6 2 4.2 1.8 4.4 1.5 4.5 1.4 5 3.3 14 1.4 9.5 0.8 11.5 -0.8 11.5 -1.4 9.5 -3.3 14 -1.4 5 -1.5 4.5 -1.8 4.4 -2 4.2 -2 3.6 -3.1 4.8 -2.3 3 -2.1 2.3 -2 1.6 -2 1.2 0 29.9zM99 119.6l-5-1 -3 0 -2-0.4 -3-1.2 -1.5-0.9 -1-0.9 -1-1.3 -0.7-1.9 -0.2-2 0.2-4 -1.3-4 -0.3-1.5 0.1-1 0.8-2.5 0.6-2.5 0.1-4 0.6-3.5 0.7-2 1-1.5 1.4-1 2-0.6 3-0.4 3 0 2.5-0.5 3.5-0.1 6.5 0.9 3.5-0.2 3 0.1 2 0.6 1.5 1.1 0.8 1.1 0.7 1.5 1 4 0.1 1.5 -0.1 2.5 0 3 0.5 3.5 -0.5 5.5 0.3 3 -0.1 2 -0.7 2.3 -1.5 2.1 -2.2 1.6 -2.8 1.2 -2 0.3 -3-0.3 -1.5 0 -2 0.4 -2.5 0.8 -1 0.2z"/>
<path fill="#8eff00" d="M0 200l25.7 0 1.3-2.5 2.1-2.5 3.2-3 4.2-3.3 2.6-1.7 3.8-2 8.6-3.7 6-2.1 6-1.8 12.5-2.8 11-1.7 13-0.8 13 0.8 11 1.7 12.5 2.8 6 1.8 6 2.1 8.6 3.7 3.8 2 2.6 1.7 4.2 3.3 3.2 3 2.1 2.5 1.3 2.5 25.7 0 0-25.7 -2.5-1.3 -2.5-2.1 -3-3.2 -3.3-4.2 -1.7-2.6 -2-3.8 -3.7-8.6 -2.1-6 -1.8-6 -2.8-12.5 -1.7-11 -0.8-13 0.8-13 1.7-11 2.8-12.5 1.8-6 2.1-6 3.7-8.6 2-3.8 1.7-2.6 3.3-4.2 3-3.2 2.5-2.1 2.5-1.3 0-25.7 -25.7 0 -1.3 2.5 -2.1 2.5 -3.2 3 -4.2 3.3 -2.6 1.7 -3.8 2 -8.6 3.7 -6 2.1 -6 1.8 -12.5 2.8 -11 1.7 -13 0.8 -13-0.8 -11-1.7 -12.5-2.8 -6-1.8 -6-2.1 -8.6-3.7 -3.8-2 -2.6-1.7 -4.2-3.3 -3.2-3 -2.1-2.5 -1.3-2.5 -25.7 0 0 25.7 2.5 1.3 2.5 2.1 3 3.2 3.3 4.2 1.7 2.6 2 3.8 3.7 8.6 2.1 6 1.8 6 2.8 12.5 1.7 11 0.8 13 -0.8 13 -1.7 11 -2.8 12.5 -1.8 6 -2.1 6 -3.7 8.6 -2 3.8 -1.7 2.6 -3.3 4.2 -3 3.2 -2.5 2.1 -2.5 1.3 0 25.2zM99 120l-5-1 -3 0 -2-0.3 -3.5-1.5 -2.3-1.7 -1.1-1.5 -0.6-1.5 -0.3-2.5 0.2-4 -1.3-4 -0.3-1.5 0.1-1 0.8-2.5 0.7-3 0.1-3.5 0.6-4 0.7-2 1.1-1.5 1.6-1 2-0.5 3-0.3 3-0.1 2.5-0.5 3.5-0.1 6.5 1 4-0.3 3 0.2 2 0.6 1.3 1 0.7 1 0.7 1.5 1.2 4.5 0 7 0.5 3.5 -0.5 5.5 0.3 3.5 -0.1 2 -0.7 2 -1.4 2 -2.5 1.9 -3 1.2 -2 0.3 -4-0.4 -2.5 0.5 -2.5 0.9 -1 0.1z"/>
<path fill="#9fff00" d="M0 200l20.4 0 1.3-2.5 3-3.5 6-5.5 3.8-2.8 3.9-2.2 5.1-2.2 8.5-3.3 6-2 8-2.1 13-2.3 9.5-1.1 11.5-0.6 11.5 0.6 9.5 1.1 13 2.3 8 2.1 6 2 8.5 3.3 5.1 2.2 3.9 2.2 3.8 2.8 6 5.5 3 3.5 1.3 2.5 20.4 0 0-20.4 -2.5-1.3 -3.5-3 -5.5-6 -2.8-3.8 -2.2-3.9 -2.2-5.1 -3.3-8.5 -2-6 -2.1-8 -2.3-13 -1.1-9.5 -0.6-11.5 0.6-11.5 1.1-9.5 2.3-13 2.1-8 2-6 3.3-8.5 2.2-5.1 2.2-3.9 2.8-3.8 5.5-6 3.5-3 2.5-1.3 0-20.4 -20.4 0 -1.3 2.5 -3 3.5 -6 5.5 -3.8 2.8 -3.9 2.2 -5.1 2.2 -8.5 3.3 -6 2 -8 2.1 -13 2.3 -9.5 1.1 -11.5 0.6 -11.5-0.6 -9.5-1.1 -13-2.3 -8-2.1 -6-2 -8.5-3.3 -5.1-2.2 -3.9-2.2 -3.8-2.8 -6-5.5 -3-3.5 -1.3-2.5 -20.4 0 0 20.4 2.5 1.3 3.5 3 5.5 6 2.8 3.8 2.2 3.9 2.2 5.1 3.3 8.5 2 6 2.1 8 2.3 13 1.1 9.5 0.6 11.5 -0.6 11.5 -1.1 9.5 -2.3 13 -2.1 8.1 -2.2 6.4 -3.1 8 -2.2 5.1 -2.2 3.9 -2.8 3.8 -5.5 6 -3.5 3 -2.5 1.3 0 19.9zM97 120l-3.5-0.7 -3.5 0 -3-0.9 -2-1 -1.5-1 -1.3-1.4 -0.8-1.5 -0.5-2.5 0.1-5 -1.4-4 -0.3-1.5 0.1-1 0.9-2.5 0.7-3 0.2-4.5 0.5-3 0.6-2 1.2-1.8 1-0.7 1.1-0.5 3.4-0.6 4.5-0.2 2.5-0.6 3.5-0.1 6.5 1.1 4.5-0.3 3.5 0.4 2 0.9 1.3 1.4 1.1 2.5 0.9 4 0 7 0.5 3.5 -0.6 6 0.4 4 -0.2 1.5 -0.5 1.5 -0.9 1.5 -1.5 1.6 -2 1.3 -2.5 1 -2.5 0.4 -4-0.4 -2.5 0.5 -3 1 -1 0.1 -1.5-0.4z"/>
<path fill="#b1ff00" d="M0 200l13.5 0 1.2-2 2.8-3 8.2-7.5 4-3 3.8-2.3 4-2 8.5-3.5 5.5-2 4.5-1.3 5.5-1.3 13-2.2 12.5-1.4 13-0.7 13 0.7 12.5 1.4 13 2.2 5.5 1.3 4.5 1.3 5.5 2 8.5 3.5 4 2 3.8 2.3 4 3 8.2 7.5 2.8 3 1.2 2 13.5 0 0-13.5 -2-1.2 -3-2.8 -7.5-8.2 -3-4 -2.3-3.8 -2-4 -3.5-8.5 -2-5.5 -1.3-4.5 -1.3-5.5 -2.2-13 -1.4-12.5 -0.7-13 0.7-13 1.4-12.5 2.2-13 1.3-5.5 1.3-4.5 2-5.5 3.5-8.5 2-4 2.3-3.8 3-4 7.5-8.2 3-2.8 2-1.2 0-13.5 -13.5 0 -1.2 2 -2.8 3 -8.2 7.5 -4 3 -3.8 2.3 -4 2 -8.5 3.5 -5.5 2 -4.5 1.3 -5.5 1.3 -13 2.2 -12.5 1.4 -13 0.7 -13-0.7 -12.5-1.4 -13-2.2 -5.5-1.3 -4.5-1.3 -5.5-2 -8.5-3.5 -4-2 -3.8-2.3 -4-3 -8.2-7.5 -2.8-3 -1.2-2 -13.5 0 0 13.5 2 1.2 3 2.8 7.5 8.2 3 4 2.3 3.8 2 4 3.5 8.5 2 5.5 1.3 4.5 1.3 5.5 2.2 13 1.4 12.5 0.7 13 -0.7 13 -1.4 12.5 -2.2 13 -1.3 5.5 -1.3 4.5 -2 5.5 -3.5 8.5 -2 4 -2.3 3.8 -3 4 -7.5 8.2 -3 2.8 -2 1.2 0 13zM97.5 120.6l-4-0.9 -3.5 0 -3-0.8 -2.5-1.3 -1.5-1 -1.1-1.1 -0.9-1.5 -0.4-1.5 -0.1-1.5 0.2-4.5 -1.6-4.5 -0.3-1.5 0.2-1 0.9-2.5 0.7-3 0.3-5 0.5-3 0.6-2 0.6-1 0.9-1 2-1 4-0.6 3.5-0.1 3-0.6 3.5-0.1 7 1.2 4.5-0.4 3.5 0.4 2 1 1.4 1.7 0.9 2.5 0.9 3.5 0.1 1.5 -0.2 2.5 0.1 3.5 0.5 4 -0.6 5.5 0.4 4.5 -0.5 2.5 -1 1.7 -1.5 1.6 -2 1.3 -2.5 1.1 -2.5 0.5 -3.5-0.5 -1 0 -2.5 0.6 -3 1.1 -2-0.2z"/>
<path fill="#c2ff00" d="M8 195.5l1-0.1 1.5-0.6 3.5-1.9 3.3-2.4 6.1-5 3.1-2.2 3.5-2.1 8.5-4.3 8.5-3.2 5-1.4 5.7-1.3 13.3-2.2 15-1.7 14-0.7 13 0.6 11.5 1.2 14.5 2.2 10.5 2.3 5.5 1.7 5 1.9 3.5 1.6 6.1 3.1 3.4 2 3.6 2.5 8.4 6.7 2.5 1.6 2 1 2 0.7 1-0.2 0.2-0.8 -0.2-1 -0.7-1.5 0.2-0.2 2 0.8 1 0.1 0.3-0.2 0.2-0.5 -0.3-1.5 -0.8-2 -1.2-2 -2.4-3.5 -5.8-7.1 -2.3-3.4 -2-3.5 -4-8 -3.1-8.5 -1.4-5 -1.3-5.5 -2.2-14 -1.6-14 -0.7-14 0.6-12.5 1.1-11 2.1-14.5 2.3-10.7 1.6-5.3 2-5.5 1.8-4 3.1-6 2-3.5 2.5-3.6 6.7-8.4 1.6-2.5 1.2-2.5 0.5-1.5 -0.2-1 -0.8-0.2 -1 0.2 -1.5 0.7 -0.2-0.2 0.7-1.5 0.2-1 -0.2-0.8 -0.5-0.2 -1 0.1 -1.5 0.6 -3.5 1.9 -3.3 2.4 -6.1 5 -3.1 2.2 -3.5 2.1 -8.5 4.3 -8.5 3.2 -5 1.4 -5.7 1.3 -13.3 2.2 -15 1.7 -14 0.7 -13-0.6 -11.5-1.2 -14.5-2.2 -10.5-2.3 -5.5-1.7 -5-1.9 -3.5-1.6 -6.1-3.1 -3.4-2 -3.6-2.5 -8.4-6.7 -2.5-1.6 -2-1 -2-0.7 -1 0.2 -0.2 0.8 0.2 1 0.7 1.5 -0.2 0.2 -2-0.8 -1-0.1 -0.3 0.2 -0.2 0.5 0.3 1.5 0.8 2 1.2 2 2.4 3.5 5.8 7.1 2.3 3.4 2 3.5 4 8 3.1 8.5 1.4 5 1.3 5.5 2.2 14 1.6 14 0.7 14 -0.6 13 -1.2 11.5 -2.2 14.5 -2.3 10.5 -1.7 5.5 -1.9 5 -1.6 3.5 -3.1 6.1 -2 3.4 -2.5 3.6 -6.7 8.4 -1.6 2.5 -1 2 -0.7 2 0.2 1 0.8 0.2 1-0.2 1.5-0.7 0.2 0.2 -0.8 2 -0.1 1 0.2 0.3zM98 121.1l-4.5-1.1 -4 0 -2.5-0.8 -2-0.9 -2-1.3 -1.1-1 -1-1.5 -0.5-1.5 -0.2-1.5 0.2-5 -1.6-4.5 -0.3-1.5 0.1-1 1-2.5 0.7-3 0.3-5 0.5-3 0.6-2 0.5-1 0.8-1 1-0.8 1-0.4 3.5-0.6 4.5-0.2 3-0.6 3.5-0.1 3 0.6 4 0.6 4.5-0.4 3.5 0.3 2 0.9 1.5 1.7 1 2.5 1 4 0 7.5 0.5 4 -0.6 5.5 0.5 4.5 -0.5 2.5 -0.9 1.7 -1.5 1.6 -2 1.5 -2.5 1.1 -1.5 0.4 -1.5 0.2 -3-0.5 -1.5 0 -2.5 0.6 -3 1.2 -1.5-0.1z"/>
<path fill="#d3ff00" d="M17.7 184l0.3 0.4 0.5 0.1 1.5-0.6 13.5-7.3 4-1.8 5.5-1.9 7.3-1.9 11.2-2.1 15.5-2.1 11-1 12-0.6 11 0.5 9.4 0.8 15.1 1.9 10 1.7 9.5 2.2 7.5 2.5 3.5 1.6 12 6.5 3 1.4 1 0.1 0.3-0.4 -0.8-2.6 2 0.8 0.5 0.1 0.4-0.3 -0.1-1 -0.8-2 -6.9-12.5 -1.6-3.5 -2-5.7 -1.8-6.8 -2.3-11.5 -2-15.5 -1.1-11 -0.6-12.5 0.6-12.5 1.1-11 2-15.5 2.3-11.5 1.8-6.8 2-5.7 1.6-3.5 6.9-12.5 0.8-2 0.1-1 -0.4-0.3 -0.5 0.1 -2 0.8 0.8-2.6 -0.3-0.4 -1 0.1 -3 1.4 -12 6.5 -3.5 1.6 -7.5 2.5 -9.5 2.2 -10 1.7 -15.1 1.9 -9.4 0.8 -11 0.5 -12.5-0.6 -11-1.1 -15.5-2 -11.5-2.3 -6.8-1.8 -5.7-2 -3.5-1.6 -12.5-6.9 -2.5-1 -0.5 0.1 -0.3 0.4 0.2 1 0.7 1.5 -2.6-0.8 -0.4 0.3 0.1 1 1.4 3 6.5 12 1.8 4 2.6 8.2 2 8.8 1.6 9.5 1.9 15.1 0.8 9.4 0.5 11 -0.5 11.5 -0.9 9.5 -1.9 15.1 -1.9 10.9 -2.1 8.6 -2.3 6.9 -1.6 3.5 -6.5 12 -1.4 3 -0.1 1 0.4 0.3 2.6-0.8 -0.8 2zM98.5 121.5l-5-1.2 -3.5 0.1 -3-0.9 -2-0.9 -2-1.2 -1.5-1.4 -1-1.5 -0.4-1.5 -0.2-1.5 0.2-5 -1.7-4.5 -0.3-1.5 0.2-1 1-2.5 0.8-3 0.1-4.5 0.6-3.5 0.5-2 0.8-1.5 1.4-1.3 1.5-0.7 2-0.4 3-0.3 3 0 2.5-0.7 3.5-0.1 7.5 1.3 4.5-0.4 3 0.1 1.5 0.4 1 0.5 1.5 1.4 1 2.2 1.2 4.5 0.2 1.5 -0.3 3 0.1 3.5 0.6 3.5 -0.6 6 0.5 4.5 -0.5 2.5 -1 2 -1.4 1.5 -2.1 1.5 -2.2 1.1 -1.5 0.4 -1.5 0.2 -3.5-0.4 -1.5 0 -2.5 0.6 -2.5 1 -1.5 0.2z"/>
<path fill="#e4ff00" d="M25.4 176.5l0.6 0.2 1-0.2 7.1-3 4.7-1.5 8.6-2 8.6-1.6 9.5-1.4 15.5-1.8 8.5-0.7 10.5-0.4 11 0.5 8.5 0.6 15.1 1.8 10 1.5 8.4 1.6 8.2 1.9 4.7 1.5 7.1 3 1 0.2 0.5 0 0.2-0.7 -0.5-1.5 0.3-0.3 1 0.4 1 0 0.2-0.6 -0.4-1.5 -2.8-6.6 -1.4-4.4 -1.9-8 -1.7-8.9 -1.5-10 -1.8-15.1 -0.6-8.5 -0.5-11 0.5-11 0.6-8.5 1.8-15.1 1.5-10 1.7-8.9 1.9-8 1.4-4.4 2.8-6.6 0.4-1.5 0-0.5 -0.7-0.2 -1.5 0.5 -0.3-0.3 0.4-1 0-1 -0.6-0.2 -1.5 0.4 -6.6 2.8 -4.4 1.4 -8 1.9 -8.9 1.7 -10 1.5 -15.1 1.8 -8.5 0.6 -11 0.5 -11-0.5 -8.5-0.6 -15.1-1.8 -10-1.5 -8.4-1.6 -8.2-1.9 -4.7-1.5 -7.1-3 -1-0.2 -0.5 0 -0.2 0.7 0.5 1.5 -0.3 0.3 -1-0.4 -1 0 -0.2 0.6 0.4 1.5 2.8 6.6 1.4 4.4 1.9 8 1.7 8.9 1.5 10 1.8 15.1 0.6 8.5 0.5 11 -0.5 11 -0.6 8.5 -1.8 15.1 -1.5 10 -1.7 8.9 -1.9 8 -1.4 4.4 -2.8 6.6 -0.4 1.5 0 0.5 0.7 0.2 1.5-0.5 0.3 0.3 -0.5 1.5zM97.5 121.6l-4-1 -4 0 -3-0.9 -2-1 -2-1.3 -1.4-1.4 -0.9-1.5 -0.5-1.5 -0.1-1.5 0.3-4 0-1 -1.8-4.5 -0.3-1.5 0.2-1 1-2.5 0.9-3.5 0.1-4.5 0.6-3.5 0.6-2 0.5-1 0.8-1 1-0.7 1-0.5 3.5-0.6 5-0.2 3-0.7 3.5-0.1 3.5 0.8 3.5 0.5 5-0.4 2 0 1.5 0.3 2 0.9 1.5 1.7 0.9 2 1.1 4.5 0.2 1.5 -0.3 2.5 0.1 4 0.6 3.5 -0.7 6.5 0.5 3 0.1 1.5 -0.5 2.4 -1.3 2.1 -1.5 1.5 -2.2 1.5 -2.5 1.1 -2.5 0.4 -4.5-0.5 -2.6 0.5 -3.4 1.4 -2-0.2z"/>
<path fill="#f5ff00" d="M30.9 171.5l2.1-0.2 9-1.8 10-1.8 13-1.9 19-2 16-0.8 16 0.8 19.5 2.1 14.2 2.1 18.3 3.5 1.5-0.1 0.5-0.2 0.5-0.8 0.7-0.4 0.3-1 -0.1-1.5 -1.9-9.5 -1.9-11 -2.4-17.5 -1.5-15 -0.7-14.5 0.8-16 2.1-19.5 2.1-14.2 3.5-18.3 0-1.1 -0.3-0.9 -0.8-0.5 -0.4-0.7 -0.9-0.3 -2.1 0.2 -9 1.8 -10 1.8 -13 1.9 -19 2 -16 0.8 -16-0.8 -19.5-2.1 -14.2-2.1 -18.3-3.5 -1.5 0.1 -0.5 0.2 -0.5 0.8 -0.7 0.4 -0.3 1 0.1 1.5 1.9 9.5 1.9 11 2.4 17.5 1.5 15 0.7 14.5 -0.8 16 -2.1 19.5 -2.1 14.2 -3.5 18.3 0 1.1 0.3 0.9 0.7 0.4 0.5 0.8 0.5 0.2zM98 122l-4.5-1.1 -4 0 -2.5-0.7 -3-1.4 -1.9-1.3 -1.5-1.5 -0.8-1.5 -0.5-2.5 0.4-4.5 -0.1-1 -1.8-4.5 -0.3-1.5 0.1-1 1.1-2.5 0.9-3.5 0.1-4.5 0.6-3.5 0.7-2.3 0.6-1.2 0.9-1 1-0.6 1.5-0.6 3.5-0.5 4-0.1 3-0.7 4-0.1 3.5 0.8 3.5 0.6 5-0.5 3.5 0.2 2.2 1 1.4 1.5 1.1 2.5 1.1 4.5 0.1 1.5 -0.2 3 0.1 3.5 0.6 3.5 -0.7 6 0.6 4.5 -0.1 1.5 -0.3 1.5 -1.3 2 -1.6 1.7 -2.5 1.6 -2.5 1.1 -2.5 0.4 -3.5-0.6 -1 0 -2.5 0.6 -3.5 1.4 -1.5 0z"/>
<path fill="#fff700" d="M33.2 169l2.8-0.1 21.8-3.4 16.7-2 12.5-1.1 13-0.5 13.5 0.5 14 1.3 15 1.8 22.5 3.5 2 0 1-0.5 0.5-0.5 0.5-1.2 -0.1-2.3 -3.6-23.5 -2.2-19.5 -0.8-10 -0.4-11.5 0.5-13.5 1.3-13.5 1.8-15.2 3.5-23.3 -0.2-2 -0.8-1 -1.2-0.5 -2.8 0.1 -21.8 3.4 -16.7 2 -12.5 1.1 -13 0.5 -13.5-0.5 -14-1.3 -15-1.8 -22.5-3.5 -2 0 -1 0.5 -0.5 0.5 -0.5 1.2 0.1 2.3 3.6 23.5 2.2 19.5 0.8 10 0.4 11.5 -0.5 13.5 -1.3 13.5 -1.8 15.2 -3.5 23.3 0.2 2 0.8 1 1 0.5zM98.5 122.5l-5-1.3 -4 0.1 -2.5-0.7 -3-1.4 -2-1.3 -1.4-1.4 -1.1-1.7 -0.4-1.3 -0.1-1.5 0.4-5 -2-5 -0.3-1.5 0.2-1 1-2.5 1-3.5 0.2-5 0.6-3.5 0.6-2 0.8-1.5 1.1-1 1.9-1 2-0.3 6-0.3 3-0.7 3-0.2 1.5 0.1 3 0.8 3.5 0.6 5-0.5 3.5 0.1 1 0.3 1 0.5 1 0.8 0.7 0.8 1 2 1.4 5 0.2 1.5 -0.3 3 0.1 4 0.6 3.5 -0.7 6.5 0.6 4 0 1.5 -0.3 1.5 -0.8 1.6 -2 2.1 -2 1.4 -3 1.6 -2.5 0.4 -4-0.6 -1 0 -2.5 0.6 -3 1.3 -1.5 0.2z"/>
<path fill="#ffe500" d="M35.2 167l3.8-0.2 21.5-3 17-1.9 10.5-0.8 12-0.5 12.5 0.5 12 1 15.5 1.8 22.5 3.1 2.5 0 1-0.4 0.5-0.5 0.5-1.1 0-2.5 -3.1-22.5 -1.8-15.5 -1-12 -0.5-12.5 0.5-12.5 1-12 1.7-15 3.2-23.5 0-1.5 -0.2-1 -0.8-1.1 -1.2-0.4 -3.8 0.2 -21.5 3 -17 1.9 -10.5 0.8 -12 0.5 -12.5-0.5 -12-1 -15.5-1.8 -22.5-3.1 -2.5 0 -1 0.4 -0.5 0.5 -0.5 1.1 0 2.5 3.1 22.5 1.8 15.5 1 12 0.5 12.5 -0.5 12.5 -1 12 -1.7 15 -3.2 23.5 0 1.5 0.2 1 0.8 1.1 1 0.4zM97.5 122.6l-4.5-1.2 -3.5 0.2 -1.5-0.2 -1.5-0.5 -3-1.6 -2-1.3 -1.8-2 -0.6-1 -0.4-1.5 -0.1-1.5 0.5-5 -2.1-5 -0.3-1.5 0.2-1 1.1-2.6 1-3.4 0.2-5.5 0.5-3 0.8-2.5 0.5-1 0.9-1 1.1-0.8 1-0.5 3.5-0.5 5-0.1 3-0.8 4-0.1 3.5 0.9 4 0.6 5.5-0.6 2 0 1.5 0.3 1.5 0.7 1.7 1.9 1.3 3 1 4 0.1 1.5 -0.3 3 0.1 3.5 0.6 4.5 -0.7 6 0.7 4.5 -0.1 1.5 -0.4 1.7 -0.7 1.3 -2.3 2.2 -3.5 2.3 -1.5 0.6 -2.5 0.4 -3.5-0.6 -1.5-0.1 -2.5 0.6 -3.5 1.5 -2-0.1z"/>
<path fill="#ffd300" d="M36.1 165l1.4 0.3 3-0.2 21-2.8 18-1.9 9-0.6 11.5-0.4 12.5 0.4 11 0.9 15.5 1.7 21.5 2.8 2.5 0.1 0.9-0.3 0.6-0.5 0.5-0.6 0.3-0.9 -0.1-2.5 -2.8-21.5 -1.7-15.5 -0.9-11 -0.4-12.5 0.4-12.5 0.9-11 1.6-15 3-22.5 -0.1-2.5 -0.2-0.5 -1.1-1 -1.4-0.3 -3 0.2 -21 2.8 -18 1.9 -9 0.6 -11.5 0.4 -12.5-0.4 -11-0.9 -15.5-1.7 -21.5-2.8 -2.5-0.1 -0.9 0.3 -0.6 0.5 -0.5 0.6 -0.3 0.9 0.1 2.5 2.8 21.5 1.7 15.5 0.9 11 0.4 12.5 -0.4 12.5 -0.9 11 -1.6 15 -3 22.5 0.1 2.5 0.2 0.5 1 1zM97.5 123l-4.5-1.2 -4 0.1 -2.5-0.6 -1.7-0.8 -3.3-2 -2-1.9 -0.7-1.1 -0.4-1.5 -0.1-1.5 0.5-4.5 -0.1-1 -2.1-5 -0.3-1.5 0.2-1 1.3-3 0.9-3 0.1-1 -0.1-3 0.3-2.5 0.5-3 0.8-2 0.7-1.2 1.3-1.3 1.7-0.8 4-0.4 4.5 0 3-0.8 4-0.2 3.5 0.9 4 0.7 6-0.7 2 0 1.5 0.3 1.5 0.8 1.7 2.2 1.1 2.5 1.1 4.5 0.1 1.5 -0.4 3 0.1 3.5 0.7 4.5 -0.7 6.5 0.7 4.5 -0.1 1.5 -0.4 1.5 -0.9 1.5 -2.2 2 -3 2 -1.8 0.9 -1.5 0.4 -1.5 0 -4.5-0.7 -3 0.7 -3.5 1.5 -1 0.1 -1-0.2z"/>
<path fill="#ffc000" d="M38.4 163.5l1.6 0.1 2.5-0.2 20.5-2.7 13.5-1.5 10.5-0.7 13-0.3 13.5 0.4 11.5 0.8 12 1.3 22 2.9 2.6-0.1 0.9-0.5 0.5-0.5 0.5-1 0.1-2.5 -2.9-22 -1.3-12 -0.8-11.5 -0.4-13 0.3-13.5 0.8-11.5 1.4-12.5 2.9-22.5 0-1.5 -0.2-1 -0.9-1 -0.9-0.5 -1.6-0.1 -2.5 0.2 -20.5 2.7 -13.5 1.5 -10.5 0.7 -13 0.3 -13.5-0.4 -11.5-0.8 -12-1.3 -22-2.9 -2.6 0.1 -0.9 0.5 -0.5 0.5 -0.5 1 -0.1 2.5 2.9 22 1.3 12 0.8 11.5 0.4 13.5 -0.4 13.5 -0.8 11.5 -1.3 12 -2.9 22.5 0 1.5 0.2 1 0.4 0.5 1 0.9zM98 123.6l-5-1.4 -4 0.1 -3-0.7 -2-1 -3-2 -1.8-1.6 -0.7-1.1 -0.5-1.4 -0.1-1.5 0.1-2 0.4-3 0-1 -2.2-5 -0.3-1.5 0.2-1 1.3-3 1-3.5 0-4.5 0.6-4 0.5-2 1-1.8 1.5-1.6 1.1-0.6 1.9-0.4 4-0.2 3 0 3-0.8 3.5-0.2 1.5 0.1 3 0.9 4 0.6 6-0.7 3.5 0.2 1 0.4 1 0.6 2 2.9 0.8 2.1 0.9 4 0.1 2 -0.4 3 0.1 3.5 0.7 4.5 -0.7 6.5 0.7 3.5 0.1 1.5 -0.2 1.5 -0.4 1.5 -0.6 1 -0.9 1 -4.2 3.1 -2 1.1 -1.5 0.4 -1.5 0.1 -4-0.7 -1-0.1 -3 0.7 -3 1.5 -1 0.2 -1-0.1z"/>
<path fill="#ffae00" d="M40.5 161l1.5 0.3 2-0.1 16-2.4 12.5-1.2 12.5-0.7 14-0.3 16 0.3 14.5 0.9 10.5 1 14.4 2.2 3.1 0.3 1 0 1-0.3 0.5-1.2 0.5 0 0.5-0.3 0.3-1.5 -0.1-2 -2.4-16 -1.2-12.5 -0.7-12.5 -0.3-14 0.3-16.5 0.9-14.5 1.1-10.5 2.1-13.9 0.3-3.1 0-1 -0.3-1 -1.2-0.5 0-0.5 -0.3-0.5 -1.5-0.3 -2 0.1 -16 2.4 -12.5 1.2 -12.5 0.7 -14 0.3 -16-0.3 -14.5-0.9 -10.5-1 -14.4-2.2 -3.1-0.3 -1 0 -1 0.3 -0.5 1.2 -0.5 0 -0.5 0.3 -0.3 1.5 0.1 2 2.4 16 1.2 12.5 0.7 12.5 0.3 14 -0.3 16 -0.9 14.5 -1 10.5 -2.2 14.4 -0.3 3.1 0 1 0.3 1 1.2 0.5 0 0.5 0.3 0.5zM98 124.1l-5-1.4 -1-0.1 -3.5 0.2 -3-0.8 -2-1 -4-2.8 -0.8-0.7 -0.7-1.1 -0.4-1.4 -0.2-2 0.6-5.5 -0.3-1 -2-4.5 -0.3-1.5 0.2-1 1.3-3 1.1-3.5 0-5 0.5-4 0.5-2 1.6-2.5 0.9-0.9 1.1-0.6 1.9-0.4 4-0.2 3.5 0.1 3-0.9 3.5-0.2 1.5 0.1 3 0.9 4 0.7 6.5-0.8 3.5 0.2 1 0.3 1 0.7 2 2.9 0.8 2.1 0.9 4.5 0.1 1.5 -0.4 3 0.1 4 0.7 4.5 -0.8 6.5 0.9 5 -0.2 2 -0.4 1.5 -0.7 1.1 -1 1 -4 3 -2.5 1.2 -1.5 0.3 -1.5 0.1 -3.5-0.8 -1.5 0 -3 0.7 -3 1.5 -1 0.2 -1-0.1z"/>
<path fill="#ff9c00" d="M45.3 156.5l1.2 0.4 1.5 0.1 13-1 11.5-0.6 13.5-0.4 14-0.3 14 0.3 13 0.4 12 0.6 13.5 1 2-0.4 0.5-0.4 0.5-0.8 0.7-0.4 0.6-1 0.2-2 -1-13 -0.6-12 -0.5-13.5 -0.2-14 0.3-14 0.5-13.5 0.5-11 1-13.5 -0.4-2 -0.4-0.5 -0.8-0.5 -0.4-0.7 -1-0.6 -2-0.2 -13 1 -12 0.6 -13.5 0.5 -14 0.2 -14-0.3 -13.5-0.5 -11-0.5 -13.5-1 -2 0.4 -0.5 0.4 -0.5 0.8 -0.7 0.4 -0.6 1 -0.2 2 1 13 0.6 12 0.5 13.5 0.2 14 -0.3 14 -0.4 13 -0.6 11.5 -1 13.5 0.4 2 0.4 0.5 0.8 0.5 0.4 0.7zM97.5 124.6l-5-1.5 -4 0.3 -1.5-0.2 -2-0.7 -2.5-1.2 -2.5-2 -1-0.5 -0.9-0.8 -0.6-1 -0.5-1.5 -0.2-2 0.2-2 0.5-3 0-1 -2.3-5 -0.4-2 0.1-1 1.4-3 1.1-3.5 0.1-5.5 0.4-4 0.6-2.3 1.5-2.3 0.8-0.9 1.2-0.6 2-0.4 4.5-0.2 3 0.1 3.5-0.9 3.5-0.2 1.5 0.2 3 0.8 4.5 0.8 6.5-0.9 2.5 0 1.5 0.3 1 0.4 0.7 0.6 2 3 0.7 2 0.9 4.5 0 2 -0.4 3 0.1 4 0.8 4.5 -0.8 6.5 0.8 4 0.1 1.5 -0.2 2 -0.4 1.5 -0.8 1.3 -1 1 -1.5 0.8 -2.5 2.1 -2.5 1.1 -1.5 0.4 -1.5 0.1 -4-0.9 -1.5 0 -3 0.8 -3 1.5 -1 0.2 -1.5-0.2z"/>
<path fill="#ff8900" d="M48.7 154l3.3 0.2 28.5-1 19.5-0.3 18.5 0.3 31 1 2.5-0.4 1.5-1.3 0.6-1.5 0.1-2.5 -1-30 -0.3-19.5 0.3-18 1-30.5 -0.2-2 -0.5-1 -1-1 -1.1-0.5 -3.4-0.2 -28.5 1 -19.5 0.3 -19-0.3 -30.5-1 -2.5 0.4 -1.5 1.3 -0.6 1.5 -0.1 2.5 1 29.5 0.3 19.5 -0.3 18.5 -1 30.5 0.2 2 0.5 1 1 1 1 0.5zM99 125.5l-6.5-1.8 -4.5 0.3 -2.5-0.6 -3.3-1.4 -2.2-1.7 -2.1-1.3 -1.1-1.5 -0.5-2.5 0-2.5 0.6-3.5 0-1.5 -2.3-5 -0.5-2 0.4-1.5 1.1-2.5 1.3-4 -0.1-4.5 0.4-4.5 0.4-2 0.6-1.5 1.8-2.5 1.5-0.8 1.5-0.3 5-0.1 3.5 0.1 3.5-1 4-0.2 1.5 0.3 3 0.9 4 0.7 6-0.9 4-0.1 1.5 0.4 1.5 1 1.5 2.2 0.6 1.3 1.2 5.5 0.2 2 -0.5 3.5 0.1 4.5 0.7 3 0.1 1.5 -0.9 7 0.9 4 0.1 2.5 -0.6 2.5 -0.5 1 -0.9 1 -2 1.2 -2.5 2.1 -2.5 1.1 -2 0.4 -1.5 0 -4-0.9 -1.5 0 -2.5 0.7 -3 1.6 -1.5 0.4z"/>
<path fill="#ff7700" d="M50.6 151.5l1.4 0.3 2.5 0.1 28.5-0.7 19.5-0.2 15 0.2 29 0.7 2.9-0.4 0.6-0.3 1-0.9 0.6-1.3 0.3-2.5 -0.7-29 -0.2-17.5 0.2-17 0.7-29.5 -0.4-3 -1.2-1.5 -0.8-0.5 -1.5-0.3 -2.5-0.1 -27.5 0.7 -18 0.2 -18-0.2 -28.5-0.7 -3 0.4 -1.5 1.2 -0.6 1.3 -0.3 2.5 0.7 29 0.2 17.5 -0.2 17.5 -0.7 29 0.4 3 0.5 0.8 1.5 1.2zM98 126l-6-1.7 -4.5 0.3 -3.5-0.9 -2.5-1.2 -2.5-1.8 -1.2-0.7 -1-1 -0.6-1 -0.5-1.5 -0.1-2 0.8-6.5 -0.3-1 -2.2-4.5 -0.4-2 0.3-1.5 1.2-2.5 1.3-4 0-5.5 0.4-4.5 0.5-2.5 1.6-2.5 0.7-0.7 1.5-0.7 1.5-0.3 9-0.1 3-0.9 4-0.2 1.5 0.1 3 0.9 4.5 0.9 1 0 3.5-0.7 3-0.3 2.5-0.1 1.5 0.2 1 0.4 1 0.7 1.9 2.8 0.8 2.5 0.8 5 0.1 2 -0.5 3 0.1 4 0.8 5 -0.9 7 0.9 4 0.2 2 -0.2 2 -0.4 1.5 -0.9 1.5 -1 1 -1.7 0.9 -2 1.7 -2.5 1.3 -2 0.5 -2 0.1 -4-1 -1.5 0 -3 0.7 -3.5 1.8 -1 0.2 -1-0.1z"/>
<path fill="#ff6500" d="M57.1 149.5l26.9-0.4 22.5-0.1 37 0.5 2-0.1 1.5-0.3 1.5-1.2 0.7-1.4 0.3-3 -0.5-43.5 0.5-45 -0.5-2.3 -1.5-1.6 -1.5-0.5 -3-0.1 -26.5 0.4 -16 0.1 -44-0.5 -2 0.1 -1.5 0.3 -1.5 1.1 -0.8 1.5 -0.2 3 0.5 37.5 -0.1 22 -0.4 28.5 0.2 1.5 0.3 1.2 0.5 0.7 1 0.9 1.5 0.5 3 0.2zM97.5 126.6l-5.5-1.6 -4.5 0.3 -2-0.4 -2-0.6 -2.9-1.3 -2.1-1.6 -1.5-0.9 -1-1 -0.5-0.9 -0.4-1.6 -0.2-2 0.2-2.5 0.7-3.5 -0.1-1 -2.3-5 -0.5-1.5 -0.1-1 0.3-1.5 1.4-3 1.3-4 -0.2-4 0.3-4.5 0.2-2.5 0.6-2 1.3-2.1 0.9-0.9 1.1-0.5 2-0.4 9 0 3.5-1 4-0.2 1.5 0.1 3.5 1.1 4.5 0.8 7.5-1.1 2.5-0.1 1.9 0.3 1.1 0.5 0.7 0.5 2 3 0.6 2 0.9 5.5 0 2 -0.5 3.5 0.1 4 0.9 5 -0.9 7.5 0.9 4 0.2 2 -0.2 2 -0.6 2 -1 1.5 -1.1 0.9 -1.5 0.9 -2.2 1.7 -2.8 1.2 -2 0.4 -1.5 0 -1.5-0.2 -3-0.8 -1.5 0 -3 0.8 -3.5 1.8 -1 0.2 -1.5-0.2z"/>
<path fill="#ff5200" d="M56.4 146.5l4.6 0.3 52.5-0.2 26.5 0.2 2.5-0.1 1.5-0.3 1-0.5 0.9-0.9 0.5-1 0.2-1 0.2-3.5 -0.2-46 0.2-34 -0.1-2.5 -0.4-1.5 -1.3-1.5 -1-0.5 -2-0.3 -3-0.1 -24.5 0.3 -55-0.3 -3.5 0.4 -1 0.5 -1 1 -0.6 1.5 -0.2 3.5 0.2 25 -0.2 55.5 0.2 2.5 0.4 1.5 1.2 1.4 1 0.5zM98.5 127.6l-6.5-1.9 -1-0.1 -4 0.4 -2-0.3 -2.2-0.7 -2.8-1.2 -3.4-2.3 -1.1-1 -0.6-1 -0.5-1.5 -0.2-2.5 0.2-2.5 0.7-3.5 0-1 -0.3-1 -1.3-2.5 -1-2.3 -0.4-2.2 0.3-1.5 1.3-3 1.4-4 -0.2-5.5 0.4-5.5 0.5-2.5 1.6-2.5 0.6-0.6 1.5-0.8 1.5-0.3 6 0 3.5 0.1 1-0.1 3-0.9 4.5-0.2 1.5 0.2 3 1 5 0.9 6.5-1.2 2.5-0.2 2 0.1 1.5 0.4 1.2 0.6 0.8 0.9 1.1 1.6 0.9 2.5 0.8 5.5 0.2 2 -0.6 4 0.1 4.5 0.9 5 -0.9 7.5 1 4.5 0.1 2 -0.2 2 -0.4 1.7 -1 1.8 -1 0.9 -1.5 0.9 -2.1 1.7 -2.4 1.1 -2.5 0.7 -2 0.1 -2-0.3 -2.5-0.8 -1.5-0.1 -3.5 1 -3.5 1.7 -1.5 0.2z"/>
<path fill="#ff4000" d="M95.3 144l18.2-0.3 10.5 0.2 14-0.2 2-0.2 1.5-0.4 1-0.8 0.6-0.8 0.4-1.1 0.3-1.9 0.1-6.5 -0.1-71 -0.6-2.5 -1.2-1.5 -1-0.5 -1-0.2 -3.5-0.3 -21.5 0.3 -16.5-0.3 -36 0.1 -2.5 0.2 -1.5 0.5 -1 0.7 -0.7 1 -0.4 1.5 -0.2 2.5 0.1 22.5 -0.4 16 0.4 14 -0.2 21 0.2 3 0.4 2 0.6 1 1.2 1 1.5 0.5 1.5 0.2 33.5 0.3zM97.5 128.1l-6-1.7 -5 0.3 -2-0.3 -2.5-0.7 -2.7-1.2 -3.3-2.1 -1-0.9 -1-1.5 -0.5-2 -0.1-2 0.2-2.5 0.8-4 0-1 -2.6-5.5 -0.4-1.5 -0.1-1 0.3-1.5 1.3-3 1.5-4.5 -0.2-4.5 0.2-5.5 0.3-2.5 0.4-1.5 1.4-2.2 0.9-0.8 1.1-0.6 2-0.4 10 0.2 4-1.1 4.5-0.2 1.5 0.3 3 0.9 5 1 7.5-1.3 3-0.2 2 0.3 1.5 0.5 0.8 0.6 1.7 2.5 0.8 2.5 0.8 6 0.1 2.5 -0.6 3.5 0.2 4.5 0.7 3.5 0.2 1.5 -1 8 1 4 0.2 2.5 -0.2 2 -0.5 2 -0.8 1.5 -1.4 1.4 -3.5 2.4 -2.8 1.2 -2.2 0.5 -2 0.1 -2-0.3 -3-0.8 -1.5-0.1 -3 0.9 -4 1.9 -1 0.2 -1.5-0.2z"/>
<path fill="#ff2e00" d="M91.2 141l8.3 0.2 13-0.7 9.5 0.4 12.5-0.3 2-0.1 1.5-0.5 0.9-0.5 1.1-1.3 0.5-1.2 0.3-2 0.2-8 -0.2-13.5 0.2-12 -0.2-8 0.1-13.5 -0.1-15.5 -0.4-2.5 -0.5-1 -0.9-0.9 -1.5-0.7 -3-0.4 -7.5 0 -13.5 0.5 -15-0.6 -13.5 0.3 -19-0.1 -2.5 0.2 -1.5 0.3 -1 0.6 -1.1 1.3 -0.5 1.5 -0.2 2.5 0.2 20.5 -0.7 15 0.7 13 -0.3 10 0 8 0.2 3.5 0.5 2 0.5 1 1.2 1.2 1 0.4 1.5 0.3 13.5 0.5 8.5-0.1 5 0.2zM98.5 129l-7.5-1.9 -5 0.4 -2-0.4 -2.5-0.7 -2.4-0.9 -1.6-0.9 -3-2.1 -1.1-1.5 -0.6-2 -0.1-2.5 0.2-2.5 0.8-4 0-1 -0.3-1 -2.1-4.5 -0.5-1.5 -0.2-1.5 0.3-1.5 1.2-3 1.6-4.5 0.1-1 -0.3-3.5 0.2-6 0.2-2.5 0.4-1.5 1.5-2.5 0.7-0.7 1.5-0.7 1.5-0.3 7 0 3.5 0.2 1-0.1 3-1 5-0.2 1.5 0.2 3.5 1.1 5 0.9 6-1.2 3-0.3 2.5 0 2 0.4 1 0.6 0.7 0.6 1.7 2.5 0.7 3 0.9 7 -0.6 4.5 0.1 5 0.8 3.5 0.1 1.5 -0.4 4.5 -0.6 3.5 0.9 4 0.3 2 -0.1 2.5 -0.5 2.5 -1 1.9 -1.1 1.1 -3.6 2.5 -2.8 1.2 -2.5 0.5 -2.5 0.1 -1.5-0.2 -3-0.9 -1.5-0.1 -3.5 0.9 -3.5 1.8 -2 0.3z"/>
<path fill="#ff1b00" d="M92.8 137.5l7.2 0.4 7.5-1.1 4-0.4 8 0.8 11-0.4 2-0.3 1.5-0.6 1.7-1.4 0.7-1 0.5-1.5 0.3-2 0.3-7 0-4.5 -0.6-6 0.5-11 -0.4-7.5 -0.1-6.5 0.3-5.5 -0.2-14 -0.6-2.5 -1.4-1.8 -1.4-0.7 -2.1-0.4 -7.5 0.1 -11.5 0.8 -13.5-1.1 -7 0.1 -5.5 0.5 -17-0.3 -2 0.2 -1.5 0.4 -1.1 0.7 -1.2 1.5 -0.5 1.5 -0.1 2.5 0.4 18 -1.5 13 0.3 5 1.1 7 -0.5 7.5 -0.1 5.5 0.2 4.9 0.5 2.6 0.6 1 1.6 1.5 1.3 0.6 1.5 0.4 12 0.7 7.5-0.2 4.5 0.5zM97 129.5l-6-1.6 -5.5 0.4 -2.5-0.5 -2.5-0.7 -3-1.2 -3-1.9 -1.1-1 -0.9-1.5 -0.5-2 -0.2-2.5 0.3-3 0.8-4 0-1 -2.3-5 -0.6-2 -0.1-1.5 0.4-2 1.2-3 1.4-4.5 -0.3-4.5 0.2-6.5 0.3-2.5 0.4-1.5 1.2-2 1-1 1.3-0.7 2-0.3 11 0.2 4-1.1 5-0.2 1.5 0.2 3.5 1 5 1 8-1.4 3-0.2 2.5 0.3 1.5 0.5 0.9 0.7 1.7 2.5 0.8 2.5 0.8 6.5 0.1 2.5 -0.6 4 0.1 4.5 0.9 5.5 -1 8.5 1.1 4.5 0.1 2.5 -0.2 2.5 -0.7 2.4 -0.6 1.1 -0.8 1 -3.1 2.3 -2 1.1 -2.5 0.8 -2.5 0.4 -2 0.1 -2-0.4 -3-0.9 -1.5 0 -3.5 1 -4 1.8 -1.5 0.2 -1.5-0.2z"/>
<path fill="#ff0900" d="M98.2 133.5l2.8-0.2 4.5-1.5 4-0.9 1.5 0.1 3.8 1 2.2 0.2 4-0.1 3.5-0.6 2.5-1 2-1.6 1.5-0.9 1-1 0.5-1 0.6-3 0.3-4 -0.3-3.5 -0.8-5 0.5-4 0.3-5.5 -0.8-6 -0.1-5.5 0.6-5.5 -0.5-10 -0.3-1.5 -0.4-1 -1.4-1.5 -0.2-0.7 -0.5-0.7 -1-0.7 -2-0.5 -3 0 -3.5 0.3 -3.5 0.4 -5.5 0.9 -11.5-1.9 -6 0.1 -4.5 0.9 -14-0.4 -1.8 0.3 -1.2 0.6 -0.5 0.5 -0.5 1.1 -1.5 1.8 -0.4 1.5 -0.2 2 0.1 9 0.4 5 -2.4 9 -0.2 2 0.1 2 0.6 2.7 1.8 5.3 0 1.5 -0.8 4.5 -0.3 4 0.2 3.5 0.6 2.2 1 1.3 2.7 2 1.7 1 1.6 0.6 4 0.7 3.5 0.5 2 0 4.5-0.3 8.5 1.5zM97 130.5l-3.5-0.8 -2.5-0.7 -1.5-0.1 -2.5 0.4 -2 0 -5-1 -3-1.1 -1.5-0.8 -2.5-1.8 -1.3-1.6 -0.6-2 -0.3-3 0.3-3.5 0.8-4 0-1 -0.4-1.2 -1.7-3.8 -0.6-2 -0.3-2 0.4-2 1.2-3.2 1.5-4.8 -0.4-4.5 0.2-7 0.1-2 0.5-2 1.3-2 1.3-1.2 1.5-0.6 2-0.3 11 0.2 1.1-0.1 2.9-0.9 5-0.2 2 0.2 3 0.9 6 1.1 1.1-0.1 3.4-0.8 3.5-0.5 3.5-0.2 2.5 0.3 2 0.9 0.8 0.8 1.1 1.5 0.8 2 0.5 3 0.6 6.5 0 1.5 -0.6 3.5 0.1 5 1 5.5 -0.5 5 -0.5 3.5 0.2 1.8 0.7 2.7 0.2 2 -0.1 3.5 -0.6 2.5 -1.2 2 -1.5 1.4 -3 2 -3.5 1.3 -3 0.5 -2 0 -2.5-0.4 -2.3-0.8 -1.7-0.1 -2.8 0.6 -5.2 2.2 -1.5 0.1 -1.5-0.1z"/>
</g>
<path id="cl" fill="none" stroke="#111" vector-effect="non-scaling-stroke" d="M97.5 104l-1-0.6 -0.6-1.4 -0.1-3.5 0.4-1.5 0.8-0.8 1-0.3 3-0.1 1.5 0.2 1 0.6 0.6 1.4 0.1 3.5 -0.4 1.5 -0.8 0.8 -1 0.3 -4 0zM95 107.6l-1-0.5 -0.7-0.6 -0.7-1 -0.3-1 -0.2-4 0.1-3.5 0.1-1.5 0.6-1.5 1.1-1.2 2-0.6 5.5-0.1 3.5 0.3 1 0.4 1 1 0.5 1 0.3 1.2 0 7.5 -0.2 1.5 -0.5 1 -1.1 1.1 -2 0.7 -4.5 0.1 -4-0.2zM93 112.1l-2-0.6 -1.5-1 -1-1.3 -0.5-1.7 -0.5-7.5 0.5-7 0.5-2 0.5-1 0.9-1 0.8-0.5 2.8-0.6 6-0.3 8 0.4 1.9 0.5 1.3 1 0.9 1.5 0.5 2 0.3 7 -0.1 6 -0.3 2 -0.6 1.5 -0.8 1 -1.1 0.8 -2.5 0.8 -7.5 0.4 -6-0.3zM65.9 200l2.9-2 3.7-2 4.5-1.9 4.4-1.6 4.1-1.1 4-0.9 5.5-0.8 5-0.5 5 0.5 5.5 0.8 4 0.9 4.1 1.1 4.4 1.6 4.5 1.9 3.7 2 2.9 2M200 134.1l-2-2.9 -2-3.7 -1.9-4.5 -1.6-4.4 -1.1-4.1 -0.9-4 -0.8-5.5 -0.5-5 0.5-5 0.8-5.5 0.9-4 1.1-4.1 1.6-4.4 1.9-4.5 2-3.7 2-2.9M0 65.9l2 2.9 2 3.7 1.9 4.5 1.6 4.4 1.1 4.1 0.9 4 0.8 5.5 0.5 5 -0.5 5 -0.8 5.5 -0.9 4 -1.1 4.1 -1.6 4.4 -1.9 4.5 -2 3.7 -2 2.9M134.1 0l-2.9 2 -3.7 2 -4.5 1.9 -4.4 1.6 -4.1 1.1 -4 0.9 -5.5 0.8 -5 0.5 -5-0.5 -5.5-0.8 -4-0.9 -4.1-1.1 -4.4-1.6 -4.5-1.9 -3.7-2 -2.9-2M39 200l1.1-1.5 2.1-2 5.3-3.9 7.5-4.3 7-2.9 9.6-2.9 9.9-2.3 8-1.2 10.5-0.8 10.5 0.8 8 1.2 9.9 2.3 9.6 2.9 7 2.9 7.5 4.3 5.3 3.9 2.1 2 1.1 1.5M200 161l-1.5-1.1 -2-2.1 -3.9-5.3 -4.3-7.5 -2.9-7 -2.9-9.6 -2.3-9.9 -1.2-8 -0.8-10.5 0.8-10.5 1.2-8 2.3-9.9 2.9-9.6 2.9-7 4.3-7.5 3.9-5.3 2-2.1 1.5-1.1M99.5 120.5l-5.5-1.1 -3.5 0 -1.9-0.4 -3.5-1.5 -2.1-1.5 -1.2-1.5 -0.8-2 -0.2-2.5 0.3-3.5 -1.6-4.8 -0.2-1.2 0.1-1 0.9-2.5 0.7-3 0.1-3.5 0.5-3.5 0.7-2.5 0.9-1.5 1.3-1.1 2-0.7 3.5-0.4 3-0.1 3.5-0.6 3-0.1 3.5 0.7 3.5 0.5 3.5-0.4 2.5 0.1 2.6 0.6 1.4 1 1.1 1.5 0.9 2.4 0.9 4.1 -0.2 3 0.1 3.5 0.5 4 -0.6 5.5 0.4 4 -0.3 2 -0.9 2 -0.9 1.2 -1.5 1.3 -1.7 1 -2.3 1 -2.5 0.3 -3-0.4 -1 0 -2 0.3 -3 1.1 -0.9 0.2zM0 39l1.5 1.1 2 2.1 3.9 5.3 4.3 7.5 2.9 7 2.9 9.6 2.3 9.9 1.2 8 0.8 10.5 -0.8 10.5 -1.2 8 -2.3 9.9 -2.9 9.6 -2.9 7 -4.3 7.5 -3.9 5.3 -2 2.1 -1.5 1.1M161 0l-1.1 1.5 -2.1 2 -5.3 3.9 -7.5 4.3 -7 2.9 -9.6 2.9 -9.9 2.3 -8 1.2 -10.5 0.8 -10.5-0.8 -8-1.2 -9.9-2.3 -9.6-2.9 -7-2.9 -7.5-4.3 -5.3-3.9 -2.1-2 -1.1-1.5M10.6 200l1-1.5 2-2 10.3-9 3.9-3 3.7-2.3 3.5-1.9 5.5-2.4 5.9-2.4 4.4-1.5 5.2-1.4 5-1.1 6-1.1 9.6-1.4 7.9-0.9 7-0.5 8.5-0.4 8.5 0.4 7 0.5 7.9 0.9 9.6 1.4 6 1.1 5 1.1 5.2 1.4 4.4 1.5 5.9 2.4 5.5 2.4 3.5 1.9 3.7 2.3 3.9 3 10.3 9 2 2 1 1.5M200 189.4l-1.5-1 -2-2 -9-10.3 -3-3.9 -2.3-3.7 -1.9-3.5 -2.4-5.5 -2.4-5.9 -1.5-4.4 -1.4-5.2 -1.1-5 -1.1-6 -1.4-9.6 -0.9-7.9 -0.5-7 -0.4-8.5 0.4-8.5 0.5-7 0.9-7.9 1.4-9.6 1.1-6 1.1-5 1.4-5.2 1.5-4.4 2.4-5.9 2.4-5.5 1.9-3.5 2.3-3.7 3-3.9 9-10.3 2-2 1.5-1M0 10.6l1.5 1 2 2 9 10.3 3 3.9 2.3 3.7 1.9 3.5 2.4 5.5 2.4 5.9 1.5 4.4 1.4 5.2 1.1 5 1.1 6 1.4 9.6 0.9 7.9 0.5 7 0.4 8.5 -0.4 8.5 -0.5 7 -0.9 7.9 -1.4 9.6 -1.1 6 -1.1 5 -1.4 5.2 -1.5 4.4 -2.4 5.9 -2.4 5.5 -1.9 3.5 -2.3 3.7 -3 3.9 -9 10.3 -2 2 -1.5 1M189.4 0l-1 1.5 -2 2 -10.3 9 -3.9 3 -3.7 2.3 -3.5 1.9 -5.5 2.4 -5.9 2.4 -4.4 1.5 -5.2 1.4 -5 1.1 -6 1.1 -9.6 1.4 -7.9 0.9 -7 0.5 -8.5 0.4 -8.5-0.4 -7-0.5 -7.9-0.9 -9.6-1.4 -6-1.1 -5-1.1 -5.2-1.4 -4.4-1.5 -5.9-2.4 -5.5-2.4 -3.5-1.9 -3.7-2.3 -3.9-3 -10.3-9 -2-2 -1-1.5M38.6 162.5l1.4 0.3 3-0.1 20.5-2.8 13-1.3 11-0.7 12.5-0.3 14 0.4 12.5 0.8 10.5 1.1 21.5 2.9 2.5-0.1 0.5-0.3 0.9-0.9 0.4-1.5 -0.1-2.5 -2.8-21 -1.3-13.5 -0.7-10.5 -0.3-12.5 0.4-14 0.8-12.5 1.1-10.5 2.9-21.5 -0.1-2.5 -0.3-0.5 -1-1 -1.4-0.3 -3 0.1 -20.5 2.8 -13 1.3 -11 0.7 -12.5 0.3 -14-0.4 -12.5-0.8 -10.5-1.1 -21.5-2.9 -2.5 0.1 -0.5 0.3 -0.9 0.9 -0.4 1.5 0.1 2.5 2.8 21 1.3 13.5 0.7 10.5 0.3 12.5 -0.4 14 -0.8 12.5 -1.1 10.5 -2.9 21.5 0.1 2.5 0.3 0.5 0.9 0.9zM98.5 123.5l-5.5-1.5 -4 0.2 -3-0.8 -1.5-0.7 -3-1.9 -2-1.8 -0.8-1 -0.5-1.5 -0.2-1.5 0.1-2 0.5-3 -0.1-1 -2.1-5 -0.3-1.5 0.1-1 1.3-2.9 1-3.3 0.1-5.3 0.5-3.5 0.4-1.5 1-2 1.5-1.7 1-0.6 2-0.4 4-0.3 3 0.1 3-0.8 3.5-0.2 1.5 0.1 3 0.8 4 0.7 5-0.7 4 0.1 1 0.3 1 0.5 1.7 2.1 1.3 2.5 1 4.5 0.2 1.5 -0.4 3 0.1 4 0.7 4.5 -0.7 6 0.7 5 -0.1 1.5 -0.3 1.5 -0.7 1.4 -1 1 -4.1 3.1 -1.9 1 -1.5 0.4 -1.5 0.2 -1.5-0.2 -2.5-0.5 -1.5 0 -2.5 0.6 -3 1.4 -1.5 0.2zM56 147.5l4.5 0.2 53-0.3 28 0.3 2-0.1 1.5-0.3 0.6-0.3 1.1-1 0.6-1 0.2-0.9 0.2-3.1 -0.3-46.5 0.3-36.5 -0.2-2.3 -0.5-1.4 -1.3-1.3 -1.7-0.6 -4.5-0.1 -33.5 0.3 -47.5-0.3 -2 0.1 -1.5 0.3 -0.7 0.3 -1 1 -0.4 0.5 -0.4 1.3 -0.2 3.2 0.3 26.5 0 30.5 -0.3 26 0.2 2.1 0.5 1.5 1.4 1.4 1.6 0.5zM98 126.1l-6-1.7 -4.5 0.2 -3.5-0.9 -2.7-1.2 -2.3-1.8 -1.3-0.7 -1-1 -0.6-1 -0.4-1.5 -0.2-2 0.8-6.5 -0.3-1 -2.1-4.5 -0.5-2 0.3-1.5 1.3-2.7 1.3-3.8 -0.1-5.5 0.4-4.5 0.6-2.5 1.5-2.5 0.8-0.8 1.5-0.7 1.5-0.3 5.5-0.1 3 0.1 1-0.1 2.5-0.8 4-0.3 1.5 0.2 3.5 1 4.5 0.8 6.5-1 2.5-0.2 2 0.3 1.2 0.4 0.8 0.6 2 2.9 0.7 2.5 0.9 5 0 2 -0.5 3 0.1 4 0.9 5 -0.9 7 0.8 4 0.2 2 -0.2 2 -0.4 1.5 -0.8 1.5 -1 1 -1.8 1 -2 1.7 -2.5 1.2 -2 0.5 -2 0.1 -4-0.9 -1.5-0.1 -3 0.8 -3.5 1.8 -1 0.2 -1-0.1zM93.9 136l4.1 0.4 2 0 7-1.3 4-0.6 7.5 1 4 0 6-0.5 2-0.4 1.5-0.5 2-1.7 0.7-0.9 0.4-1 0.4-2 0.5-6.5 -0.2-4.5 -0.6-5.5 0.6-10.5 -0.6-7 -0.1-6 0.5-6 -0.3-12.5 -0.5-2.5 -1.5-2 -1.3-0.8 -2-0.4 -3-0.2 -4 0.2 -11.5 1.1 -12.5-1.4 -6.5 0.1 -5.5 0.6 -16-0.3 -2 0.2 -1.5 0.6 -0.5 0.3 -1.6 2 -0.4 1.5 -0.2 2.5 0.5 16.5 -1.6 10 -0.3 2.5 0.2 2.5 0.4 3 1.3 6 -0.7 7 -0.2 5 0.3 4.5 0.6 2.5 0.7 1.1 2 1.6 1 0.5 1.5 0.4 11 1 7-0.3 5 0.7z"/>
<path id="clb" fill="none" stroke="#111" vector-effect="non-scaling-stroke" d="M99 103.5l-1.5-0.3 -0.7-0.7 -0.3-1.5 0.1-3 0.7-1 0.7-0.4 3-0.1 1.5 0.3 0.7 0.7 0.3 1.5 -0.1 3 -0.4 0.7 -1 0.7 -2.5 0.1zM96 107.6l-1.5-0.5 -0.9-0.6 -0.6-0.7 -0.5-1.3 -0.2-4 0.1-3.5 0.1-1.5 0.5-1.3 1-1.1 1.7-0.6 3.3-0.2 5 0.1 1.5 0.4 0.9 0.7 0.6 0.7 0.5 1.3 0.2 2.5 -0.1 5 -0.1 1.5 -0.4 1 -1.1 1.3 -1.5 0.7 -4.5 0.2 -3.5-0.1zM94.5 112l-2-0.3 -2-0.8 -1.1-0.9 -0.9-1.5 -0.4-2 -0.4-6 0.4-6.5 0.3-2 0.6-1.5 0.5-0.8 0.8-0.7 1.1-0.5 2.6-0.5 6-0.2 6 0.2 2 0.3 1.7 0.7 1.3 1.4 0.6 1.6 0.4 2.5 0.1 6 -0.1 5.5 -0.2 1.5 -0.5 1.5 -0.8 1.2 -1 0.8 -1.5 0.6 -2 0.4 -6 0.2 -5-0.2zM65.9 200l2.9-2 3.7-2 4.5-1.9 4.4-1.6 4.1-1.1 4-0.9 5.5-0.8 5-0.5 5 0.5 5.5 0.8 4 0.9 4.1 1.1 4.4 1.6 4.5 1.9 3.7 2 2.9 2M200 134.1l-2-2.9 -2-3.7 -1.9-4.5 -1.6-4.4 -1.1-4.1 -0.9-4 -0.8-5.5 -0.5-5 0.5-5 0.8-5.5 0.9-4 1.1-4.1 1.6-4.4 1.9-4.5 2-3.7 2-2.9M96 115.5l-4-0.2 -3-0.8 -2.4-1.5 -0.8-1 -0.5-1 -0.5-2 0-4 -0.7-3.5 -0.1-1.5 0.7-4.5 0.3-4.5 0.8-3 0.7-1.2 1-0.9 1.5-0.7 2-0.4 8-0.5 6 0.5 3-0.1 2 0.2 2 0.6 1.5 1.2 1 1.8 0.7 2.5 0.2 1.5 0 5 0.2 3 -0.2 4.5 0.1 3.5 -0.7 2.5 -0.8 1.4 -1.1 1.1 -1.7 1 -1.7 0.6 -2 0.2 -3.5-0.1 -4 0.7 -3.5-0.3zM0 65.9l2 2.9 2 3.7 1.9 4.5 1.6 4.4 1.1 4.1 0.9 4 0.8 5.5 0.5 5 -0.5 5 -0.8 5.5 -0.9 4 -1.1 4.1 -1.6 4.4 -1.9 4.5 -2 3.7 -2 2.9M134.1 0l-2.9 2 -3.7 2 -4.5 1.9 -4.4 1.6 -4.1 1.1 -4 0.9 -5.5 0.8 -5 0.5 -5-0.5 -5.5-0.8 -4-0.9 -4.1-1.1 -4.4-1.6 -4.5-1.9 -3.7-2 -2.9-2M39 200l1.1-1.5 2.1-2 5.3-3.9 7.5-4.3 7-2.9 9.6-2.9 9.9-2.3 8-1.2 10.5-0.8 10.5 0.8 8 1.2 9.9 2.3 9.6 2.9 7 2.9 7.5 4.3 5.3 3.9 2.1 2 1.1 1.5M200 161l-1.5-1.1 -2-2.1 -3.9-5.3 -4.3-7.5 -2.9-7 -2.9-9.6 -2.3-9.9 -1.2-8 -0.8-10.5 0.8-10.5 1.2-8 2.3-9.9 2.9-9.6 2.9-7 4.3-7.5 3.9-5.3 2-2.1 1.5-1.1M98 118.6l-4-0.7 -3 0 -3-0.8 -3-1.7 -1-0.9 -1-1.5 -0.7-2.5 0.1-5 -1.3-5 1.3-6 0.1-4 0.5-2.7 0.5-1.8 0.9-1.5 1.1-1 1.5-0.7 2-0.4 5-0.3 2.5-0.4 2.5-0.1 6.5 0.9 4-0.2 2.8 0.2 2.2 0.8 1.5 1.6 1 2.1 0.8 3.5 0 7 0.4 3 -0.4 5.5 0.2 4 -0.5 2.3 -0.9 1.7 -1.5 1.5 -1.6 1 -2 0.9 -2.5 0.4 -4-0.3 -2 0.3 -3 0.9 -1.5 0zM0 39l1.5 1.1 2 2.1 3.9 5.3 4.3 7.5 2.9 7 2.9 9.6 2.3 9.9 1.2 8 0.8 10.5 -0.8 10.5 -1.2 8 -2.3 9.9 -2.9 9.6 -2.9 7 -4.3 7.5 -3.9 5.3 -2 2.1 -1.5 1.1M161 0l-1.1 1.5 -2.1 2 -5.3 3.9 -7.5 4.3 -7 2.9 -9.6 2.9 -9.9 2.3 -8 1.2 -10.5 0.8 -10.5-0.8 -8-1.2 -9.9-2.3 -9.6-2.9 -7-2.9 -7.5-4.3 -5.3-3.9 -2.1-2 -1.1-1.5M10.6 200l1-1.5 2-2 10.3-9 3.9-3 3.7-2.3 3.5-1.9 5.5-2.4 5.9-2.4 4.4-1.5 5.2-1.4 5-1.1 6-1.1 9.6-1.4 7.9-0.9 7-0.5 8.5-0.4 8.5 0.4 7 0.5 7.9 0.9 9.6 1.4 6 1.1 5 1.1 5.2 1.4 4.4 1.5 5.9 2.4 5.5 2.4 3.5 1.9 3.7 2.3 3.9 3 10.3 9 2 2 1 1.5M200 189.4l-1.5-1 -2-2 -9-10.3 -3-3.9 -2.3-3.7 -1.9-3.5 -2.4-5.5 -2.4-5.9 -1.5-4.4 -1.4-5.2 -1.1-5 -1.1-6 -1.4-9.6 -0.9-7.9 -0.5-7 -0.4-8.5 0.4-8.5 0.5-7 0.9-7.9 1.4-9.6 1.1-6 1.1-5 1.4-5.2 1.5-4.4 2.4-5.9 2.4-5.5 1.9-3.5 2.3-3.7 3-3.9 9-10.3 2-2 1.5-1M99 121.1l-5.5-1.3 -3 0.1 -2-0.4 -2-0.7 -2-1 -2.3-1.8 -1.1-1.5 -0.5-1.5 -0.3-2.5 0.3-4 -1.6-4.5 -0.3-1.5 0.1-1 1-2.5 0.7-3 0.1-4 0.7-4 0.7-2.2 1-1.5 1.5-1.1 2-0.5 3.5-0.4 3-0.1 3-0.6 3.5-0.1 7 1.2 4-0.4 3 0.2 2 0.5 1.5 1 0.8 1 0.7 1.5 1.3 5 0 7.5 0.5 3.5 -0.6 6 0.5 3.5 -0.1 1.5 -0.7 2.5 -1.4 2 -1.5 1.3 -1.5 1 -3 1.2 -2 0.3 -3-0.4 -1.5 0 -2.5 0.5 -2.5 1 -1 0.2zM0 10.6l1.5 1 2 2 9 10.3 3 3.9 2.3 3.7 1.9 3.5 2.4 5.5 2.4 5.9 1.5 4.4 1.4 5.2 1.1 5 1.1 6 1.4 9.6 0.9 7.9 0.5 7 0.4 8.5 -0.4 8.5 -0.5 7 -0.9 7.9 -1.4 9.6 -1.1 6 -1.1 5 -1.4 5.2 -1.5 4.4 -2.4 5.9 -2.4 5.5 -1.9 3.5 -2.3 3.7 -3 3.9 -9 10.3 -2 2 -1.5 1M189.4 0l-1 1.5 -2 2 -10.3 9 -3.9 3 -3.7 2.3 -3.5 1.9 -5.5 2.4 -5.9 2.4 -4.4 1.5 -5.2 1.4 -5 1.1 -6 1.1 -9.6 1.4 -7.9 0.9 -7 0.5 -8.5 0.4 -8.5-0.4 -7-0.5 -7.9-0.9 -9.6-1.4 -6-1.1 -5-1.1 -5.2-1.4 -4.4-1.5 -5.9-2.4 -5.5-2.4 -3.5-1.9 -3.7-2.3 -3.9-3 -10.3-9 -2-2 -1-1.5M38.6 162.5l1.4 0.3 3-0.1 20.5-2.8 13-1.3 11-0.7 12.5-0.3 14 0.4 12.5 0.8 10.5 1.1 21.5 2.9 2.5-0.1 0.5-0.3 0.9-0.9 0.4-1.5 -0.1-2.5 -2.8-21 -1.3-13.5 -0.7-10.5 -0.3-12.5 0.4-14 0.8-12.5 1.1-10.5 2.9-21.5 -0.1-2.5 -0.3-0.5 -1-1 -1.4-0.3 -3 0.1 -20.5 2.8 -13 1.3 -11 0.7 -12.5 0.3 -14-0.4 -12.5-0.8 -10.5-1.1 -21.5-2.9 -2.5 0.1 -0.5 0.3 -0.9 0.9 -0.4 1.5 0.1 2.5 2.8 21 1.3 13.5 0.7 10.5 0.3 12.5 -0.4 14 -0.8 12.5 -1.1 10.5 -2.9 21.5 0.1 2.5 0.3 0.5 0.9 0.9zM97.5 123.6l-4.5-1.3 -4 0.2 -3-0.7 -2-1 -3-1.9 -2-1.8 -0.7-1.1 -0.4-1.5 -0.2-1.5 0.6-5 -0.1-1 -2.2-5 -0.3-1.5 0.2-1 1.3-3 1.1-3.5 -0.1-4.5 0.6-4 0.5-2 1.1-2 1.3-1.5 1.3-0.7 1.5-0.3 4-0.3 3.5 0.1 3-0.8 3.5-0.2 1.5 0.1 3 0.8 4 0.7 6.5-0.7 2 0 1.5 0.2 1 0.4 0.8 0.7 2 3 0.7 2 0.9 4 0.1 1.5 -0.4 3.5 0.1 3.5 0.7 4.5 -0.8 6.5 0.7 3.5 0.2 1.5 -0.2 1.5 -0.4 1.5 -0.5 1 -0.9 1.1 -4.5 3.3 -2 1 -1.5 0.4 -1.5 0.1 -4-0.8 -1 0 -3 0.7 -3.5 1.6 -1 0 -1-0.1zM56 147.5l4.5 0.2 53-0.3 28 0.3 2-0.1 1.5-0.3 0.6-0.3 1.1-1 0.6-1 0.2-0.9 0.2-3.1 -0.3-46.5 0.3-36.5 -0.2-2.3 -0.5-1.4 -1.3-1.3 -1.7-0.6 -4.5-0.1 -33.5 0.3 -47.5-0.3 -2 0.1 -1.5 0.3 -0.7 0.3 -1 1 -0.4 0.5 -0.4 1.3 -0.2 3.2 0.3 26.5 0 30.5 -0.3 26 0.2 2.1 0.5 1.5 1.4 1.4 1.6 0.5zM97.5 127.1l-5.5-1.6 -1-0.1 -4 0.4 -2-0.4 -2-0.6 -2.9-1.3 -2.1-1.6 -1.5-0.9 -1-1 -0.5-0.9 -0.5-2 -0.1-2.1 0.9-6.5 -0.2-1 -1.4-2.5 -1-2.5 -0.4-2 0.3-1.5 1.4-3 1.3-4 -0.2-4.5 0.3-5 0.3-2.5 0.4-1.5 1.4-2.1 0.9-0.9 1.1-0.6 2-0.3 9.5 0 3.5-1 4-0.2 1.5 0.1 3.5 1.1 4.5 0.9 8-1.2 2.5-0.1 2 0.3 1 0.4 0.7 0.6 2 3 0.7 2.5 0.8 5.5 0 2 -0.5 3 0.1 4.5 0.9 5 -0.9 7.5 0.9 4 0.2 2.5 -0.2 2 -0.7 2 -0.9 1.5 -1.1 0.9 -1.5 0.9 -2.2 1.7 -2.8 1.2 -2 0.4 -2 0 -4-1 -1.5-0.1 -3 0.7 -4 2 -1 0.2 -1.5-0.2zM93.9 136l4.1 0.4 2.5 0 6-1.3 4.5-0.6 7.5 1 4 0 6-0.5 2-0.4 1.5-0.5 2-1.7 0.7-0.9 0.4-1 0.4-2 0.5-6.5 -0.2-4.5 -0.6-5.5 0.6-10.5 -0.6-7 0-6 0.4-6 -0.3-12.5 -0.5-2.5 -1.5-2 -1.3-0.8 -2-0.4 -3-0.2 -4 0.2 -11.5 1.1 -12.5-1.4 -6.5 0.1 -5.5 0.6 -16-0.3 -2 0.2 -1.5 0.6 -0.5 0.3 -1.6 2 -0.4 1.5 -0.2 2.5 0.5 16.5 -1.6 10 -0.3 2.5 0.2 2.5 0.4 3 1.3 6 -0.7 7 -0.2 5 0.3 4.5 0.6 2.5 0.7 1.1 2 1.6 1 0.5 1.5 0.4 11 1 7-0.3 5 0.7zM98 130.1l-7-1.8 -1-0.1 -4.5 0.4 -2.5-0.4 -3-0.8 -3-1.3 -3-2 -1-0.9 -0.7-1.2 -0.6-2 -0.2-3 0.2-2.5 0.8-3.6 0.1-1.4 -0.2-1 -1.3-2.5 -1-2.5 -0.4-1.5 -0.1-1.5 0.2-1.5 1.2-3.1 1.6-4.9 -0.3-4.5 0.2-7 0.3-2.5 0.4-1.5 1.4-2 0.9-0.9 1.5-0.7 1.5-0.2 2.5-0.1 9 0.2 4-1 5-0.2 1.5 0.2 3.5 1 5 1 1.5-0.2 4-0.9 3-0.3 2.5-0.2 2 0.1 2 0.6 1.5 1.1 1.6 2.5 0.7 3 0.8 7.5 -0.6 4.5 0.1 5 0.9 5.5 -0.4 5 -0.6 3 0.2 1.5 0.8 3.5 0.2 2 -0.1 3 -0.7 2.5 -0.8 1.5 -1.1 1.2 -3.5 2.4 -3 1.2 -2.5 0.6 -2.5 0.1 -2-0.3 -3.5-1 -1.5 0 -3 0.8 -4 1.9 -1.5 0.3 -1-0.1z"/>
<clipPath id="ca"><rect x="75.1" y="59.6" width="363.1" height="362.5"/></clipPath>
<clipPath id="cbp"><rect x="63.6" y="621.3" width="190.4" height="169.8"/></clipPath>
</defs>
<rect width="520" height="853" fill="#fff"/>

<!-- colour bar -->
<rect x="136" y="4" width="293.3" height="17.6" fill="url(#cb)" stroke="#000" stroke-opacity="0.35" stroke-width="0.6"/>
<text x="122" y="21.6" font-size="23" text-anchor="middle">f</text>
<text x="122.5" y="10.2" font-size="25" text-anchor="middle">~</text>
<text x="159.4" y="47.4" font-size="22.3" text-anchor="middle">0.01</text>
<text x="268.8" y="47.4" font-size="22.3" text-anchor="middle">0.05</text>
<text x="417" y="47.4" font-size="22.3" text-anchor="middle">0.1</text>

<text class="b" x="9.5" y="37" font-size="34">(a)</text>

<!-- panel (a) -->
<g clip-path="url(#ca)">
<g transform="translate(75.1,59.6) scale(0.60517,0.60417)">
<use href="#cf" x="0" y="0"/><use href="#cf" x="0" y="200"/><use href="#cf" x="0" y="400"/><use href="#cf" x="200" y="0"/><use href="#cf" x="200" y="200"/><use href="#cf" x="200" y="400"/><use href="#cf" x="400" y="0"/><use href="#cf" x="400" y="200"/><use href="#cf" x="400" y="400"/>
<g stroke-width="0.75"><use href="#cl" x="0" y="0"/><use href="#cl" x="0" y="200"/><use href="#cl" x="0" y="400"/><use href="#cl" x="200" y="0"/><use href="#cl" x="200" y="200"/><use href="#cl" x="200" y="400"/><use href="#cl" x="400" y="0"/><use href="#cl" x="400" y="200"/><use href="#cl" x="400" y="400"/></g>
</g>
<g stroke="#fff" stroke-opacity="0.7" stroke-width="0.8">
<line x1="196.1" y1="59.6" x2="196.1" y2="422.1"/><line x1="317.2" y1="59.6" x2="317.2" y2="422.1"/>
<line x1="75.1" y1="180.4" x2="438.20000000000005" y2="180.4"/><line x1="75.1" y1="301.3" x2="438.20000000000005" y2="301.3"/>
</g>
</g>
<rect x="75.1" y="59.6" width="363.1" height="362.5" fill="none" stroke="#000" stroke-width="1.2"/>
<rect x="196.95" y="180.4" width="119.45" height="120.4" fill="none" stroke="#000" stroke-width="2.5"/>
<text x="65" y="68.5" font-size="22.8" text-anchor="end">3</text>
<text x="65" y="128.9" font-size="22.8" text-anchor="end">2</text>
<text x="65" y="189.3" font-size="22.8" text-anchor="end">1</text>
<text x="65" y="250.8" font-size="22.8" text-anchor="end">0</text>
<text x="65" y="310.2" font-size="22.8" text-anchor="end">-1</text>
<text x="65" y="370.6" font-size="22.8" text-anchor="end">-2</text>
<text x="65" y="431.0" font-size="22.8" text-anchor="end">-3</text>
<text x="76.6" y="448.2" font-size="22.8" text-anchor="middle">-3</text>
<text x="137.1" y="448.2" font-size="22.8" text-anchor="middle">-2</text>
<text x="197.6" y="448.2" font-size="22.8" text-anchor="middle">-1</text>
<text x="258.1" y="448.2" font-size="22.8" text-anchor="middle">0</text>
<text x="317.7" y="448.2" font-size="22.8" text-anchor="middle">1</text>
<text x="379.2" y="448.2" font-size="22.8" text-anchor="middle">2</text>
<text x="439.7" y="448.2" font-size="22.8" text-anchor="middle">3</text>

<text x="219.9" y="483.2" font-size="28">k</text><text x="234.8" y="490.2" font-size="21">x</text><text class="s" x="253.6" y="483.3" font-size="24.8">(π/a)</text>
<g transform="translate(21.6,286) rotate(-90)"><text x="0" y="0" font-size="28">k</text><text x="15.6" y="6.6" font-size="21">y</text><text class="s" x="34" y="-1.6" font-size="25">(π/a)</text></g>

<!-- dashed arrow -->
<line x1="215.2" y1="301.3" x2="163.1" y2="490.5" stroke="#000" stroke-width="4" stroke-dasharray="29.5 3.5"/>
<path d="M156.7 513.6 L173.9 487.2 L162.5 492.4 L155.4 482.1 Z" fill="#000"/>

<!-- panel (b) -->
<text class="b" x="10" y="581" font-size="34">(b)</text>
<circle cx="155.6" cy="709.2" r="140.9" fill="none" stroke="#1808ea" stroke-width="4"/>
<g clip-path="url(#cbp)">
<g transform="translate(63.6,621.3) scale(0.95200,0.84900)">
<use href="#cfb"/>
<g stroke-width="1.15"><use href="#clb"/></g>
</g>
</g>
<rect x="63.6" y="621.3" width="190.4" height="169.8" fill="none" stroke="#000" stroke-width="1.3"/>
<rect x="163.1" y="733.2" width="27.5" height="8.6" fill="#fff"/><text x="176.8" y="740.6" font-size="8.6" style="fill:#1c1c3c" text-anchor="middle" font-weight="bold">0.098</text>
<rect x="122.7" y="743.4" width="27" height="8.4" fill="#fff"/><text x="136.2" y="750.7" font-size="8.6" style="fill:#1c1c3c" text-anchor="middle">0.09</text>
<rect x="143.8" y="753.4" width="27" height="8.4" fill="#fff"/><text x="157.3" y="760.7" font-size="8.6" style="fill:#1c1c3c" text-anchor="middle">0.08</text>
<rect x="185.2" y="766.8" width="26" height="8.4" fill="#fff"/><text x="198.2" y="774.1" font-size="8.6" style="fill:#1c1c3c" text-anchor="middle">0.06</text>

<!-- (b) tick labels -->
<text x="58.5" y="635" font-size="17.5" text-anchor="end">1</text>
<text x="57" y="714.2" font-size="17.5" text-anchor="end">0</text>
<text x="60.4" y="798.8" font-size="17.5" text-anchor="end">-1</text>
<text x="63" y="809.7" font-size="17.5" text-anchor="middle">-1</text>
<text x="160.8" y="809.7" font-size="17.5" text-anchor="middle">0</text>
<text x="251.6" y="809.7" font-size="17.5" text-anchor="middle">1</text>
<text x="132.2" y="829.2" font-size="20.5">k</text><text x="142.6" y="832.2" font-size="14.5">x</text><text class="s" x="156.6" y="829.8" font-size="20.5">(π/a)</text>
<g transform="translate(34.3,736) rotate(-90)"><text x="0" y="0" font-size="20">k</text><text x="10.8" y="4.6" font-size="14.5">y</text><text class="s" x="20.8" y="-0.6" font-size="20">(</text><text class="s" x="26.6" y="-0.6" font-size="20">π</text><text class="s" x="33.2" y="-0.6" font-size="20">/</text><text x="39.2" y="1.4" font-size="19">L</text><text class="s" x="50.8" y="-0.6" font-size="20">)</text></g>

<!-- light-blue dashed line -->
<g stroke="#1c88e2" stroke-width="3.2">
<line x1="177" y1="691.8" x2="312.4" y2="691.8" stroke-dasharray="9.4 3.2"/>
<line x1="328.8" y1="691.8" x2="400" y2="691.8" stroke-dasharray="9.8 3.4"/>
<line x1="463.6" y1="691.8" x2="520" y2="691.8" stroke-dasharray="9.8 3.4"/>
</g>
<!-- black arrow inside (b) -->
<circle cx="125.4" cy="690.5" r="3.3" fill="#000"/>
<line x1="125.4" y1="690.5" x2="155.7" y2="690.2" stroke="#000" stroke-width="3.8"/><path d="M177.7 690.0L146.8 697.5Q153.5 693.8 154.7 690.2Q153.5 686.6 146.6 683.1Z" fill="#000"/>
<!-- blue arrow to circle -->
<line x1="253.5" y1="694.9" x2="273.0" y2="692.7" stroke="#1808ea" stroke-width="4"/><path d="M295.9 690.2L265.6 703.0Q271.4 697.6 272.0 692.8Q270.4 688.3 263.6 684.3Z" fill="#1808ea"/>
<!-- right schematic -->
<text x="314.4" y="622.7" font-size="23.4">Si-Slab</text>
<text x="411.4" y="624.6" font-size="23.5">Si-PNC</text>
<g fill="none" stroke="#a6a6a6" stroke-width="2.1">
<circle cx="422.1" cy="640" r="9.2"/><circle cx="422.1" cy="664" r="9.2"/><circle cx="422.1" cy="687.7" r="9.2"/><circle cx="422.1" cy="711.8" r="9.2"/><circle cx="422.1" cy="736" r="9.2"/>
</g>
<line x1="400.4" y1="618.6" x2="400.4" y2="756.5" stroke="#000" stroke-width="3.7"/>
<line x1="347.4" y1="697.6" x2="378.9" y2="693.8" stroke="#1808ea" stroke-width="3.8"/><path d="M398.3 691.5L371.5 703.1Q377.3 698.2 377.9 693.9Q376.3 690.0 369.5 686.6Z" fill="#1808ea"/>
<line x1="400.0" y1="691.8" x2="439.4" y2="691.8" stroke="#000" stroke-width="3.5"/><path d="M460.0 691.8L431.9 699.3Q437.4 695.5 438.4 691.8Q437.4 688.0 431.9 684.3Z" fill="#000"/>
</svg></body></html>
